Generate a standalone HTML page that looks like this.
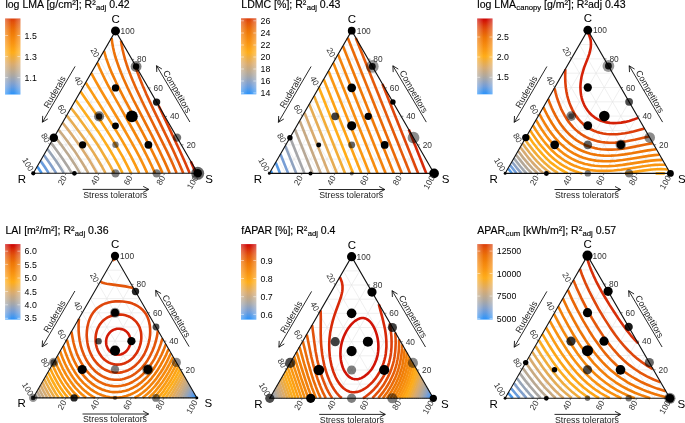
<!DOCTYPE html>
<html lang="en"><head><meta charset="utf-8"><title>CSR ternary plots</title>
<style>html,body{margin:0;padding:0;background:#fff}body{width:685px;height:423px;overflow:hidden}</style></head>
<body>
<svg width="685" height="423" viewBox="0 0 685 423" style="display:block;font-family:'Liberation Sans',sans-serif;filter:blur(0.35px)">
<rect width="685" height="423" fill="#fff"/>
<defs><linearGradient id="side" x1="0" y1="0" x2="1" y2="0"><stop offset="0" stop-color="#fff" stop-opacity="0.32"/><stop offset="0.42" stop-color="#fff" stop-opacity="0"/><stop offset="0.58" stop-color="#fff" stop-opacity="0"/><stop offset="1" stop-color="#fff" stop-opacity="0.32"/></linearGradient></defs>
<g><path d="M189.5 159.1L41.5 159.1M123.7 45.2L49.7 173.3M107.3 45.2L181.3 173.3M181.3 144.8L49.7 144.8M131.9 59.4L66.2 173.3M99.1 59.4L164.8 173.3M173.0 130.6L58.0 130.6M140.2 73.6L82.6 173.3M90.8 73.6L148.4 173.3M164.8 116.4L66.2 116.4M148.4 87.9L99.1 173.3M82.6 87.9L131.9 173.3M156.6 102.1L74.4 102.1M156.6 102.1L115.5 173.3M74.4 102.1L115.5 173.3M148.4 87.9L82.6 87.9M164.8 116.4L131.9 173.3M66.2 116.4L99.1 173.3M140.2 73.6L90.8 73.6M173.0 130.6L148.4 173.3M58.0 130.6L82.6 173.3M131.9 59.4L99.1 59.4M181.3 144.8L164.8 173.3M49.7 144.8L66.2 173.3M123.7 45.2L107.3 45.2M189.5 159.1L181.3 173.3M41.5 159.1L49.7 173.3" stroke="#e4e4e4" stroke-width="0.6" fill="none"/>
<path d="M37.3 166.5 41.7 173.3" stroke="#4997ec" stroke-width="2.60" fill="none" stroke-linecap="butt" stroke-linejoin="round"/>
<path d="M40.6 160.9 44.8 167.1 48.7 173.1" stroke="#699cdd" stroke-width="2.60" fill="none" stroke-linecap="butt" stroke-linejoin="round"/>
<path d="M43.9 155 50.4 164.2 56.2 173.1" stroke="#83a0cb" stroke-width="2.60" fill="none" stroke-linecap="butt" stroke-linejoin="round"/>
<path d="M47.4 149 52 155.3 56.3 161.3 60.3 167.4 63.8 173.1" stroke="#97a4b6" stroke-width="2.60" fill="none" stroke-linecap="butt" stroke-linejoin="round"/>
<path d="M51.1 142.9 56.9 150.7 62.4 158.5 67.4 165.9 71.8 173.1" stroke="#aba7a2" stroke-width="2.60" fill="none" stroke-linecap="butt" stroke-linejoin="round"/>
<path d="M54.7 136.3 62 145.9 68.7 155.3 74.6 164.2 80 173.1" stroke="#bba991" stroke-width="2.60" fill="none" stroke-linecap="butt" stroke-linejoin="round"/>
<path d="M58.6 129.7 63.1 135.5 67.4 141.2 71.4 146.7 75.3 152.1 78.9 157.6 82.2 162.8 85.4 168 88.3 173.1" stroke="#caaa80" stroke-width="2.60" fill="none" stroke-linecap="butt" stroke-linejoin="round"/>
<path d="M62.6 122.8 67.8 129.4 72.8 136 77.6 142.7 82.1 149 86.2 155.3 90.1 161.3 93.6 167.4 96.9 173.1" stroke="#daab6e" stroke-width="2.60" fill="none" stroke-linecap="butt" stroke-linejoin="round"/>
<path d="M66.8 115.6 73.1 123.7 78.7 131.2 84.1 138.6 89 145.8 93.7 152.9 97.9 159.8 101.9 166.5 105.5 173.1" stroke="#e6ac53" stroke-width="2.60" fill="none" stroke-linecap="butt" stroke-linejoin="round"/>
<path d="M71.1 108 78.3 117.4 84.8 126.3 90.8 134.7 96.4 142.9 101.4 150.8 106 158.5 110.3 165.9 114.1 173.1" stroke="#f2ac37" stroke-width="2.60" fill="none" stroke-linecap="butt" stroke-linejoin="round"/>
<path d="M75.7 100 84.2 111.7 91.5 122 98.1 131.4 103.9 140.4 109.3 149 114.2 157.3 118.6 165.4 122.6 173.1" stroke="#fdad1c" stroke-width="2.60" fill="none" stroke-linecap="butt" stroke-linejoin="round"/>
<path d="M80.5 91.6 92.2 108.6 99.4 119.1 106 129.1 112 138.6 117.5 147.8 122.6 156.7 127 165.1 131.1 173.3" stroke="#fda416" stroke-width="2.60" fill="none" stroke-linecap="butt" stroke-linejoin="round"/>
<path d="M85.8 82.8 92.2 92.9 110.5 121.7 116.2 130.9 121.1 138.9 126.4 148.1 131.1 156.7 135.4 165.1 139.2 173.1" stroke="#fa9a13" stroke-width="2.60" fill="none" stroke-linecap="butt" stroke-linejoin="round"/>
<path d="M91.3 73.1 95.5 80.8 100.7 90 122.2 126 131.3 141.8 135.9 150.2 140.1 158.2 143.9 165.9 147.2 173.1" stroke="#f88f10" stroke-width="2.60" fill="none" stroke-linecap="butt" stroke-linejoin="round"/>
<path d="M97.4 62.7 99.4 67.6 101.8 72.8 104.4 78.2 107.5 84.3 114.7 97.5 132.5 129 140.5 143.5 144.7 151.6 148.5 159.1 151.9 166.2 155 173.2" stroke="#f4860c" stroke-width="2.60" fill="none" stroke-linecap="butt" stroke-linejoin="round"/>
<path d="M104 50.9 106.1 58.1 108.9 65.9 112.2 73.9 116.3 82.8 120.3 90.9 124.9 99.8 142.5 132.4 149.8 146.4 156.7 160.4 159.7 166.8 162.5 173.1" stroke="#f17d09" stroke-width="2.60" fill="none" stroke-linecap="butt" stroke-linejoin="round"/>
<path d="M111.6 38 112.2 42.6 113 47.2 114.1 52.1 115.4 57 117.1 62.1 118.9 67.3 121 72.8 123.4 78.5 127.8 88.3 133.2 99.5 138.7 110.2 152.2 136.2 159 149.9 164.7 161.9 169.7 173.1" stroke="#ec7107" stroke-width="2.60" fill="none" stroke-linecap="butt" stroke-linejoin="round"/>
<path d="M121 40.6 121.7 45.2 122.6 49.8 123.8 54.7 125.1 59.6 126.7 64.7 128.5 69.9 130.6 75.4 132.9 81.1 137.2 90.9 142.3 101.8 147.7 112.8 160.7 138.8 167 151.6 172.2 162.8 176.6 173.1" stroke="#e76209" stroke-width="2.60" fill="none" stroke-linecap="butt" stroke-linejoin="round"/>
<path d="M134.8 64.3 137 71.1 139.7 78.2 142.7 85.7 146.3 94.1 153.5 109.6 167.6 138.6 173.2 150.4 178.7 162.5 183.3 173.3" stroke="#e2530b" stroke-width="2.60" fill="none" stroke-linecap="butt" stroke-linejoin="round"/>
<path d="M158.6 105.6 179.8 150.7 185.1 162.5 189.6 173.1" stroke="#dc3f0b" stroke-width="2.60" fill="none" stroke-linecap="butt" stroke-linejoin="round"/>
<path d="M190.7 161.2 195.7 173.1" stroke="#d62508" stroke-width="2.60" fill="none" stroke-linecap="butt" stroke-linejoin="round"/>
<path d="M33.3 173.3L197.7 173.3L115.5 30.9Z" stroke="#111" stroke-width="1.1" fill="none" stroke-linejoin="miter"/>
<path d="M181.3 144.8h2.2M66.2 173.3l-1.1 1.9M99.1 59.4l-1.1 -1.9M164.8 116.4h2.2M99.1 173.3l-1.1 1.9M82.6 87.9l-1.1 -1.9M148.4 87.9h2.2M131.9 173.3l-1.1 1.9M66.2 116.4l-1.1 -1.9M131.9 59.4h2.2M164.8 173.3l-1.1 1.9M49.7 144.8l-1.1 -1.9M115.5 30.9h2.2M197.7 173.3l-1.1 1.9M33.3 173.3l-1.1 -1.9" stroke="#333" stroke-width="0.6" fill="none"/>
<circle cx="115.5" cy="30.9" r="4.48" fill="#000" fill-opacity="1.00"/>
<circle cx="136.1" cy="66.5" r="5.43" fill="#000" fill-opacity="0.50"/>
<circle cx="136.1" cy="66.5" r="3.19" fill="#000" fill-opacity="1.00"/>
<circle cx="115.5" cy="87.9" r="3.66" fill="#000" fill-opacity="1.00"/>
<circle cx="156.6" cy="102.1" r="3.66" fill="#000" fill-opacity="0.90"/>
<circle cx="99.1" cy="116.4" r="5.07" fill="#000" fill-opacity="0.50"/>
<circle cx="99.1" cy="116.4" r="3.19" fill="#000" fill-opacity="0.85"/>
<circle cx="131.9" cy="116.4" r="5.90" fill="#000" fill-opacity="1.00"/>
<circle cx="115.5" cy="125.8" r="3.42" fill="#000" fill-opacity="1.00"/>
<circle cx="82.6" cy="144.8" r="3.66" fill="#000" fill-opacity="1.00"/>
<circle cx="115.5" cy="144.8" r="3.19" fill="#000" fill-opacity="0.50"/>
<circle cx="148.4" cy="144.8" r="3.89" fill="#000" fill-opacity="1.00"/>
<circle cx="177.1" cy="137.7" r="4.13" fill="#000" fill-opacity="0.55"/>
<circle cx="74.4" cy="173.3" r="2.36" fill="#000" fill-opacity="1.00"/>
<circle cx="115.5" cy="173.3" r="4.13" fill="#000" fill-opacity="0.50"/>
<circle cx="156.6" cy="173.3" r="4.13" fill="#000" fill-opacity="0.50"/>
<circle cx="197.7" cy="173.3" r="6.49" fill="#000" fill-opacity="0.60"/>
<circle cx="197.7" cy="173.3" r="4.25" fill="#000" fill-opacity="1.00"/>
<circle cx="33.3" cy="173.3" r="2.12" fill="#000" fill-opacity="1.00"/>
<circle cx="53.8" cy="137.7" r="4.25" fill="#000" fill-opacity="1.00"/>
<text x="186.4" y="147.8" font-size="8.4" fill="#333">20</text>
<text transform="translate(64.5 176.2) rotate(-60)" text-anchor="end" font-size="8.4" fill="#333" dy="3">20</text>
<text transform="translate(97.4 56.5) rotate(60)" text-anchor="end" font-size="8.4" fill="#333" dy="3">20</text>
<text x="169.9" y="119.4" font-size="8.4" fill="#333">40</text>
<text transform="translate(97.4 176.2) rotate(-60)" text-anchor="end" font-size="8.4" fill="#333" dy="3">40</text>
<text transform="translate(80.9 84.9) rotate(60)" text-anchor="end" font-size="8.4" fill="#333" dy="3">40</text>
<text x="153.5" y="90.9" font-size="8.4" fill="#333">60</text>
<text transform="translate(130.2 176.2) rotate(-60)" text-anchor="end" font-size="8.4" fill="#333" dy="3">60</text>
<text transform="translate(64.5 113.4) rotate(60)" text-anchor="end" font-size="8.4" fill="#333" dy="3">60</text>
<text x="137.0" y="62.4" font-size="8.4" fill="#333">80</text>
<text transform="translate(163.1 176.2) rotate(-60)" text-anchor="end" font-size="8.4" fill="#333" dy="3">80</text>
<text transform="translate(48.0 141.9) rotate(60)" text-anchor="end" font-size="8.4" fill="#333" dy="3">80</text>
<text x="120.6" y="33.9" font-size="8.4" fill="#333">100</text>
<text transform="translate(196.0 176.2) rotate(-60)" text-anchor="end" font-size="8.4" fill="#333" dy="3">100</text>
<text transform="translate(31.6 170.4) rotate(60)" text-anchor="end" font-size="8.4" fill="#333" dy="3">100</text>
<text x="115.7" y="23.1" font-size="11.5" text-anchor="middle" fill="#000">C</text>
<text x="21.8" y="182.8" font-size="11.5" text-anchor="middle" fill="#000">R</text>
<text x="209.2" y="182.8" font-size="11.5" text-anchor="middle" fill="#000">S</text>
<path d="M75.1 66.4L42.4 122.2M47.8 118.9L42.4 122.2L42.7 115.9" stroke="#111" stroke-width="0.9" fill="none" stroke-linejoin="miter"/>
<text transform="translate(57.2 93.4) rotate(-60)" text-anchor="middle" font-size="8.8" fill="#222">Ruderals</text>
<path d="M189.9 122.0L156.5 65.7M156.8 72.0L156.5 65.7L161.9 69.0" stroke="#111" stroke-width="0.9" fill="none" stroke-linejoin="miter"/>
<text transform="translate(174.7 93.0) rotate(60)" text-anchor="middle" font-size="8.8" fill="#222">Competitors</text>
<path d="M82.7 189.4L148.8 189.4M143.2 186.4L148.8 189.4L143.2 192.4" stroke="#111" stroke-width="0.9" fill="none" stroke-linejoin="miter"/>
<text x="115.2" y="197.6" text-anchor="middle" font-size="8.8" fill="#222">Stress tolerators</text>
<defs><linearGradient id="g1" x1="0" y1="0" x2="0" y2="1"><stop offset="0.000" stop-color="#dc3e0a"/><stop offset="0.050" stop-color="#e2530b"/><stop offset="0.100" stop-color="#e76209"/><stop offset="0.150" stop-color="#ec7107"/><stop offset="0.200" stop-color="#f07c08"/><stop offset="0.250" stop-color="#f4860c"/><stop offset="0.300" stop-color="#f88f10"/><stop offset="0.350" stop-color="#fa9913"/><stop offset="0.400" stop-color="#fda415"/><stop offset="0.450" stop-color="#fead1b"/><stop offset="0.500" stop-color="#f2ac37"/><stop offset="0.550" stop-color="#e6ac52"/><stop offset="0.600" stop-color="#daab6e"/><stop offset="0.650" stop-color="#caaa7f"/><stop offset="0.700" stop-color="#bba991"/><stop offset="0.750" stop-color="#aba7a2"/><stop offset="0.800" stop-color="#98a4b6"/><stop offset="0.850" stop-color="#83a0cb"/><stop offset="0.900" stop-color="#699cdd"/><stop offset="0.950" stop-color="#4998ec"/><stop offset="1.000" stop-color="#2a93fb"/></linearGradient></defs>
<rect x="5.1" y="18.5" width="15.3" height="76.0" fill="url(#g1)"/>
<rect x="5.1" y="18.5" width="15.3" height="76.0" fill="url(#side)"/>
<text x="24.6" y="38.6" font-size="8.8" fill="#000">1.5</text>
<text x="24.6" y="59.7" font-size="8.8" fill="#000">1.3</text>
<text x="24.6" y="80.7" font-size="8.8" fill="#000">1.1</text>
<path d="M5.1 35.5h3M20.4 35.5h-3M5.1 56.6h3M20.4 56.6h-3M5.1 77.6h3M20.4 77.6h-3" stroke="#fff" stroke-width="0.6" stroke-opacity="0.8" fill="none"/>
<text x="5.4" y="8.3" font-size="10.55" fill="#000" stroke="#000" stroke-width="0.15">log LMA [g/cm²]; R²<tspan dx="0.3" dy="2.0" font-size="7.7">adj</tspan><tspan dy="-2.0"> </tspan>0.42</text></g>
<g><path d="M425.9 159.1L277.5 159.1M359.9 45.0L285.8 173.4M343.5 45.0L417.6 173.4M417.6 144.9L285.8 144.9M368.2 59.2L302.3 173.4M335.2 59.2L401.1 173.4M409.4 130.6L294.0 130.6M376.4 73.5L318.7 173.4M327.0 73.5L384.7 173.4M401.1 116.3L302.3 116.3M384.7 87.8L335.2 173.4M318.7 87.8L368.2 173.4M392.9 102.0L310.5 102.0M392.9 102.0L351.7 173.4M310.5 102.0L351.7 173.4M384.7 87.8L318.7 87.8M401.1 116.3L368.2 173.4M302.3 116.3L335.2 173.4M376.4 73.5L327.0 73.5M409.4 130.6L384.7 173.4M294.0 130.6L318.7 173.4M368.2 59.2L335.2 59.2M417.6 144.9L401.1 173.4M285.8 144.9L302.3 173.4M359.9 45.0L343.5 45.0M425.9 159.1L417.6 173.4M277.5 159.1L285.8 173.4" stroke="#e4e4e4" stroke-width="0.6" fill="none"/>
<path d="M270.9 170.7 271.9 173.2" stroke="#3595f6" stroke-width="2.60" fill="none" stroke-linecap="butt" stroke-linejoin="round"/>
<path d="M275.7 162.6 280 173.3" stroke="#5799e5" stroke-width="2.60" fill="none" stroke-linecap="butt" stroke-linejoin="round"/>
<path d="M280.5 154.2 288.1 173.2" stroke="#789ed5" stroke-width="2.60" fill="none" stroke-linecap="butt" stroke-linejoin="round"/>
<path d="M285.3 145.9 296.2 173.2" stroke="#8fa2bf" stroke-width="2.60" fill="none" stroke-linecap="butt" stroke-linejoin="round"/>
<path d="M290.1 137.5 304.4 173.2" stroke="#a5a6a9" stroke-width="2.60" fill="none" stroke-linecap="butt" stroke-linejoin="round"/>
<path d="M294.9 129.3 312.5 173.2" stroke="#b7a896" stroke-width="2.60" fill="none" stroke-linecap="butt" stroke-linejoin="round"/>
<path d="M299.8 121.1 320.7 173.3" stroke="#c7a983" stroke-width="2.60" fill="none" stroke-linecap="butt" stroke-linejoin="round"/>
<path d="M304.5 112.7 328.7 173.2" stroke="#d8ab70" stroke-width="2.60" fill="none" stroke-linecap="butt" stroke-linejoin="round"/>
<path d="M309.3 104.3 336.9 173.2" stroke="#e5ac54" stroke-width="2.60" fill="none" stroke-linecap="butt" stroke-linejoin="round"/>
<path d="M314.1 95.9 345 173.2" stroke="#f2ac36" stroke-width="2.60" fill="none" stroke-linecap="butt" stroke-linejoin="round"/>
<path d="M318.9 87.6 353.1 173.2" stroke="#ffad19" stroke-width="2.60" fill="none" stroke-linecap="butt" stroke-linejoin="round"/>
<path d="M323.7 79.3 361.3 173.3" stroke="#fca215" stroke-width="2.60" fill="none" stroke-linecap="butt" stroke-linejoin="round"/>
<path d="M328.6 71.2 369.4 173.2" stroke="#fa9712" stroke-width="2.60" fill="none" stroke-linecap="butt" stroke-linejoin="round"/>
<path d="M333.3 62.8 377.5 173.2" stroke="#f68c0e" stroke-width="2.60" fill="none" stroke-linecap="butt" stroke-linejoin="round"/>
<path d="M338.1 54.5 385.6 173.2" stroke="#f3820b" stroke-width="2.60" fill="none" stroke-linecap="butt" stroke-linejoin="round"/>
<path d="M342.9 46.1 393.7 173.2" stroke="#ef7807" stroke-width="2.60" fill="none" stroke-linecap="butt" stroke-linejoin="round"/>
<path d="M347.7 37.8 401.9 173.4" stroke="#ea6908" stroke-width="2.60" fill="none" stroke-linecap="butt" stroke-linejoin="round"/>
<path d="M355.8 37.9 410 173.2" stroke="#e4590a" stroke-width="2.60" fill="none" stroke-linecap="butt" stroke-linejoin="round"/>
<path d="M382.4 83.9 418.1 173.2" stroke="#de460b" stroke-width="2.60" fill="none" stroke-linecap="butt" stroke-linejoin="round"/>
<path d="M408.8 129.6 426.2 173.2" stroke="#d72a08" stroke-width="2.60" fill="none" stroke-linecap="butt" stroke-linejoin="round"/>
<path d="M269.3 173.4L434.1 173.4L351.7 30.7Z" stroke="#111" stroke-width="1.1" fill="none" stroke-linejoin="miter"/>
<path d="M417.6 144.9h2.2M302.3 173.4l-1.1 1.9M335.2 59.2l-1.1 -1.9M401.1 116.3h2.2M335.2 173.4l-1.1 1.9M318.7 87.8l-1.1 -1.9M384.7 87.8h2.2M368.2 173.4l-1.1 1.9M302.3 116.3l-1.1 -1.9M368.2 59.2h2.2M401.1 173.4l-1.1 1.9M285.8 144.9l-1.1 -1.9M351.7 30.7h2.2M434.1 173.4l-1.1 1.9M269.3 173.4l-1.1 -1.9" stroke="#333" stroke-width="0.6" fill="none"/>
<circle cx="351.7" cy="30.7" r="3.89" fill="#000" fill-opacity="1.00"/>
<circle cx="372.3" cy="66.4" r="6.37" fill="#000" fill-opacity="0.40"/>
<circle cx="372.3" cy="66.4" r="3.42" fill="#000" fill-opacity="0.90"/>
<circle cx="351.7" cy="87.8" r="4.37" fill="#000" fill-opacity="1.00"/>
<circle cx="392.9" cy="102.0" r="2.71" fill="#000" fill-opacity="1.00"/>
<circle cx="335.2" cy="116.3" r="3.89" fill="#000" fill-opacity="0.75"/>
<circle cx="368.2" cy="116.3" r="3.66" fill="#000" fill-opacity="1.00"/>
<circle cx="351.7" cy="125.8" r="4.60" fill="#000" fill-opacity="1.00"/>
<circle cx="318.7" cy="144.9" r="2.48" fill="#000" fill-opacity="1.00"/>
<circle cx="351.7" cy="144.9" r="3.42" fill="#000" fill-opacity="0.60"/>
<circle cx="384.7" cy="144.9" r="3.89" fill="#000" fill-opacity="1.00"/>
<circle cx="413.5" cy="137.7" r="5.90" fill="#000" fill-opacity="0.45"/>
<circle cx="289.9" cy="137.7" r="2.71" fill="#000" fill-opacity="1.00"/>
<circle cx="310.5" cy="173.4" r="2.01" fill="#000" fill-opacity="1.00"/>
<circle cx="351.7" cy="173.4" r="2.01" fill="#000" fill-opacity="0.50"/>
<circle cx="434.1" cy="173.4" r="4.84" fill="#000" fill-opacity="1.00"/>
<circle cx="269.3" cy="173.4" r="1.42" fill="#000" fill-opacity="1.00"/>
<text x="422.7" y="147.9" font-size="8.4" fill="#333">20</text>
<text transform="translate(300.6 176.3) rotate(-60)" text-anchor="end" font-size="8.4" fill="#333" dy="3">20</text>
<text transform="translate(333.5 56.3) rotate(60)" text-anchor="end" font-size="8.4" fill="#333" dy="3">20</text>
<text x="406.2" y="119.3" font-size="8.4" fill="#333">40</text>
<text transform="translate(333.5 176.3) rotate(-60)" text-anchor="end" font-size="8.4" fill="#333" dy="3">40</text>
<text transform="translate(317.0 84.8) rotate(60)" text-anchor="end" font-size="8.4" fill="#333" dy="3">40</text>
<text x="389.8" y="90.8" font-size="8.4" fill="#333">60</text>
<text transform="translate(366.5 176.3) rotate(-60)" text-anchor="end" font-size="8.4" fill="#333" dy="3">60</text>
<text transform="translate(300.6 113.4) rotate(60)" text-anchor="end" font-size="8.4" fill="#333" dy="3">60</text>
<text x="373.3" y="62.2" font-size="8.4" fill="#333">80</text>
<text transform="translate(399.4 176.3) rotate(-60)" text-anchor="end" font-size="8.4" fill="#333" dy="3">80</text>
<text transform="translate(284.1 141.9) rotate(60)" text-anchor="end" font-size="8.4" fill="#333" dy="3">80</text>
<text x="356.8" y="33.7" font-size="8.4" fill="#333">100</text>
<text transform="translate(432.4 176.3) rotate(-60)" text-anchor="end" font-size="8.4" fill="#333" dy="3">100</text>
<text transform="translate(267.6 170.5) rotate(60)" text-anchor="end" font-size="8.4" fill="#333" dy="3">100</text>
<text x="351.9" y="22.9" font-size="11.5" text-anchor="middle" fill="#000">C</text>
<text x="257.8" y="182.9" font-size="11.5" text-anchor="middle" fill="#000">R</text>
<text x="445.6" y="182.9" font-size="11.5" text-anchor="middle" fill="#000">S</text>
<path d="M311.1 66.5L278.4 122.3M283.8 119.0L278.4 122.3L278.7 116.0" stroke="#111" stroke-width="0.9" fill="none" stroke-linejoin="miter"/>
<text transform="translate(293.2 93.5) rotate(-60)" text-anchor="middle" font-size="8.8" fill="#222">Ruderals</text>
<path d="M426.3 122.1L392.9 65.8M393.2 72.1L392.9 65.8L398.3 69.1" stroke="#111" stroke-width="0.9" fill="none" stroke-linejoin="miter"/>
<text transform="translate(411.1 93.1) rotate(60)" text-anchor="middle" font-size="8.8" fill="#222">Competitors</text>
<path d="M318.7 189.5L384.8 189.5M379.2 186.5L384.8 189.5L379.2 192.5" stroke="#111" stroke-width="0.9" fill="none" stroke-linejoin="miter"/>
<text x="351.2" y="197.7" text-anchor="middle" font-size="8.8" fill="#222">Stress tolerators</text>
<defs><linearGradient id="g2" x1="0" y1="0" x2="0" y2="1"><stop offset="0.000" stop-color="#dc3e0a"/><stop offset="0.050" stop-color="#e2530b"/><stop offset="0.100" stop-color="#e76209"/><stop offset="0.150" stop-color="#ec7107"/><stop offset="0.200" stop-color="#f07c08"/><stop offset="0.250" stop-color="#f4860c"/><stop offset="0.300" stop-color="#f88f10"/><stop offset="0.350" stop-color="#fa9913"/><stop offset="0.400" stop-color="#fda415"/><stop offset="0.450" stop-color="#fead1b"/><stop offset="0.500" stop-color="#f2ac37"/><stop offset="0.550" stop-color="#e6ac52"/><stop offset="0.600" stop-color="#daab6e"/><stop offset="0.650" stop-color="#caaa7f"/><stop offset="0.700" stop-color="#bba991"/><stop offset="0.750" stop-color="#aba7a2"/><stop offset="0.800" stop-color="#98a4b6"/><stop offset="0.850" stop-color="#83a0cb"/><stop offset="0.900" stop-color="#699cdd"/><stop offset="0.950" stop-color="#4998ec"/><stop offset="1.000" stop-color="#2a93fb"/></linearGradient></defs>
<rect x="241.0" y="18.3" width="15.3" height="76.0" fill="url(#g2)"/>
<rect x="241.0" y="18.3" width="15.3" height="76.0" fill="url(#side)"/>
<text x="260.5" y="23.9" font-size="8.8" fill="#000">26</text>
<text x="260.5" y="36.1" font-size="8.8" fill="#000">24</text>
<text x="260.5" y="48.1" font-size="8.8" fill="#000">22</text>
<text x="260.5" y="60.1" font-size="8.8" fill="#000">20</text>
<text x="260.5" y="72.1" font-size="8.8" fill="#000">18</text>
<text x="260.5" y="84.1" font-size="8.8" fill="#000">16</text>
<text x="260.5" y="96.0" font-size="8.8" fill="#000">14</text>
<path d="M241.0 20.8h3M256.3 20.8h-3M241.0 33.0h3M256.3 33.0h-3M241.0 45.0h3M256.3 45.0h-3M241.0 57.0h3M256.3 57.0h-3M241.0 69.0h3M256.3 69.0h-3M241.0 81.0h3M256.3 81.0h-3M241.0 92.9h3M256.3 92.9h-3" stroke="#fff" stroke-width="0.6" stroke-opacity="0.8" fill="none"/>
<text x="241.3" y="8.3" font-size="10.55" fill="#000" stroke="#000" stroke-width="0.15">LDMC [%]; R²<tspan dx="0.3" dy="2.0" font-size="7.7">adj</tspan><tspan dy="-2.0"> </tspan>0.43</text></g>
<g><path d="M662.1 159.1L513.4 159.1M596.0 44.6L521.6 173.4M579.5 44.6L653.9 173.4M653.9 144.8L521.6 144.8M604.3 58.9L538.2 173.4M571.2 58.9L637.3 173.4M645.6 130.5L529.9 130.5M612.5 73.2L554.7 173.4M563.0 73.2L620.8 173.4M637.3 116.1L538.2 116.1M620.8 87.5L571.2 173.4M554.7 87.5L604.3 173.4M629.1 101.8L546.4 101.8M629.1 101.8L587.8 173.4M546.4 101.8L587.8 173.4M620.8 87.5L554.7 87.5M637.3 116.1L604.3 173.4M538.2 116.1L571.2 173.4M612.5 73.2L563.0 73.2M645.6 130.5L620.8 173.4M529.9 130.5L554.7 173.4M604.3 58.9L571.2 58.9M653.9 144.8L637.3 173.4M521.6 144.8L538.2 173.4M596.0 44.6L579.5 44.6M662.1 159.1L653.9 173.4M513.4 159.1L521.6 173.4" stroke="#e4e4e4" stroke-width="0.6" fill="none"/>
<path d="M508.1 168.5 511.9 173.2" stroke="#4d98ea" stroke-width="2.60" fill="none" stroke-linecap="butt" stroke-linejoin="round"/>
<path d="M510 165.1 516.5 173.2" stroke="#709dd9" stroke-width="2.60" fill="none" stroke-linecap="butt" stroke-linejoin="round"/>
<path d="M511.9 161.7 516.7 167.8 521.3 173.2" stroke="#8aa1c4" stroke-width="2.60" fill="none" stroke-linecap="butt" stroke-linejoin="round"/>
<path d="M513.9 158.2 520.4 166.5 523.5 170.1 526.5 173.4" stroke="#a1a6ad" stroke-width="2.60" fill="none" stroke-linecap="butt" stroke-linejoin="round"/>
<path d="M516 154.7 520.2 160.1 524 164.9 527.9 169.3 531.7 173.2" stroke="#b4a898" stroke-width="2.60" fill="none" stroke-linecap="butt" stroke-linejoin="round"/>
<path d="M518.1 151 523.1 157.6 527.9 163.4 532.6 168.6 537.4 173.3" stroke="#c5a985" stroke-width="2.60" fill="none" stroke-linecap="butt" stroke-linejoin="round"/>
<path d="M520.3 147.2 526.2 155 529.1 158.6 532 162 534.8 165 537.7 168 540.5 170.7 543.4 173.2" stroke="#d7ab72" stroke-width="2.60" fill="none" stroke-linecap="butt" stroke-linejoin="round"/>
<path d="M522.7 143.5 526.2 148.4 529.8 153 533.2 157 536.5 160.8 540 164.4 543.4 167.6 546.9 170.6 550.3 173.3" stroke="#e5ac55" stroke-width="2.60" fill="none" stroke-linecap="butt" stroke-linejoin="round"/>
<path d="M525 139.4 529.3 145.4 533.4 150.6 537.4 155.4 541.4 159.7 545.4 163.6 549.5 167.2 553.7 170.4 558 173.2" stroke="#f2ac37" stroke-width="2.60" fill="none" stroke-linecap="butt" stroke-linejoin="round"/>
<path d="M655.6 173.4 660.5 173.3 664.8 173.4M527.6 135.1 532.6 142.3 537.4 148.5 542.3 154.2 547.1 159.1 549.6 161.4 552 163.4 554.6 165.4 557.2 167.3 559.8 169 562.4 170.5 564.9 171.9 567.8 173.3" stroke="#ffad18" stroke-width="2.60" fill="none" stroke-linecap="butt" stroke-linejoin="round"/>
<path d="M530.2 130.4 533.2 135.1 536.3 139.4 539.3 143.5 542.3 147.2 545.4 150.7 548.4 153.9 551.5 156.8 554.6 159.5 557.8 162 561.2 164.3 564.5 166.3 567.8 168.1 571.2 169.7 575 171.2 578.7 172.4 582.4 173.4M624.9 173.4 643 170.6 652.2 169.5 656.8 169.2 660.8 169.1 664.5 169.2 668.1 169.5" stroke="#fca115" stroke-width="2.60" fill="none" stroke-linecap="butt" stroke-linejoin="round"/>
<path d="M533 125.5 535.9 130.2 538.6 134.2 541.3 138 544 141.5 546.6 144.6 549.4 147.8 552.3 150.8 555.2 153.5 558 155.9 561.2 158.3 564.4 160.5 567.3 162.2 570.6 164 573.8 165.5 577.3 166.8 580.7 167.9 583.6 168.7 586.7 169.4 589.9 170 593.1 170.4 596.5 170.7 599.9 170.9 603.4 170.9 607.1 170.9 613.7 170.5 620.9 169.7 627.8 168.7 643.6 166.2 651.3 165.3 655.1 164.9 658.8 164.7 662.2 164.7 665.4 164.8" stroke="#f99612" stroke-width="2.60" fill="none" stroke-linecap="butt" stroke-linejoin="round"/>
<path d="M536.1 120 538.8 124.7 541.3 128.7 544 132.7 546.5 136.2 549.1 139.6 551.7 142.6 554.4 145.5 557.2 148.2 560.1 150.8 562.9 153.1 565.8 155.1 569 157.2 572.1 158.9 575.4 160.5 578.7 161.9 582.2 163 585 163.9 588.2 164.6 591.3 165.2 594.8 165.7 598.2 166 601.7 166.2 605.1 166.2 608.8 166.1 615.4 165.7 622.6 164.9 629.2 163.9 644.1 161.6 651 160.6 657.1 160.1 662.5 159.9" stroke="#f68b0e" stroke-width="2.60" fill="none" stroke-linecap="butt" stroke-linejoin="round"/>
<path d="M539.5 114 541.9 118.6 544.3 122.7 546.8 126.7 549.1 130.3 551.6 133.6 554.1 136.8 556.6 139.7 559.4 142.6 562.1 145.1 564.9 147.5 567.8 149.7 570.7 151.7 573.5 153.4 576.8 155 580 156.5 583.3 157.7 586.2 158.6 589.3 159.4 592.5 160 595.9 160.6 599.4 160.9 602.8 161.1 606.5 161.2 610.3 161.1 616.3 160.7 622.6 160 629.5 159 648.7 155.9 654.5 155.1 659.4 154.8" stroke="#f2800a" stroke-width="2.60" fill="none" stroke-linecap="butt" stroke-linejoin="round"/>
<path d="M543.4 107.1 545.5 111.7 547.7 116 550 120 552.1 123.5 554.4 127 556.6 130.2 558.9 133 561.5 136 564.1 138.7 566.7 141.1 569.5 143.4 572.3 145.5 575.3 147.4 578.1 149 581.3 150.5 584.4 151.8 587.3 152.8 590.5 153.7 593.6 154.4 597.1 155 600.5 155.4 604 155.6 607.4 155.7 611.1 155.6 617.5 155.2 624.6 154.4 631.7 153.3 647.9 150.4 652.5 149.7 656.2 149.3" stroke="#ee7606" stroke-width="2.60" fill="none" stroke-linecap="butt" stroke-linejoin="round"/>
<path d="M548.2 98.9 549.9 103.6 551.7 107.8 553.5 111.7 555.4 115.4 557.5 119.1 559.5 122.4 561.7 125.5 563.9 128.4 566.4 131.3 568.7 133.7 571.2 136.1 573.8 138.3 576.7 140.4 579.6 142.2 582.5 143.7 585.6 145.2 588.6 146.3 591.6 147.3 594.8 148.1 597.9 148.7 601.1 149.2 604.5 149.5 608 149.6 611.7 149.6 618.6 149.2 626.4 148.2 632.4 147.1 646.7 144.3 652.8 143.3" stroke="#e86508" stroke-width="2.60" fill="none" stroke-linecap="butt" stroke-linejoin="round"/>
<path d="M554.5 88.2 555.6 92.9 556.8 97.2 558.2 101.2 559.6 105 561.1 108.8 562.8 112.2 564.7 115.7 566.6 118.9 568.7 121.9 570.9 124.7 573.2 127.3 575.5 129.6 578.1 131.9 580.7 133.8 583.3 135.5 586.2 137.1 589 138.5 591.9 139.6 595.1 140.6 598.2 141.4 601.4 142 604.8 142.4 608.3 142.6 611.7 142.7 615.2 142.6 618.9 142.3 622.6 141.9 626.6 141.3 634.7 139.7 649 136.5" stroke="#e3540b" stroke-width="2.60" fill="none" stroke-linecap="butt" stroke-linejoin="round"/>
<path d="M565.3 69.2 565.2 74.1 565.2 78.7 565.4 83 565.8 87.4 566.4 91.4 567.2 95.5 568.2 99.2 569.4 103 570.8 106.4 572.4 109.9 574.2 113.1 576.1 116.1 578.2 118.9 580.5 121.5 583 123.9 585.6 126 588.2 127.8 590.8 129.3 593.8 130.7 596.8 131.9 599.9 132.8 603.1 133.5 606.5 134 610 134.3 613.4 134.3 617.2 134.2 620.9 133.8 624.9 133.2 628.9 132.5 633.5 131.4 644.4 128.4" stroke="#dc3e0a" stroke-width="2.60" fill="none" stroke-linecap="butt" stroke-linejoin="round"/>
<path d="M587.2 31.3 588.1 33 589.1 35 589.8 37.1 590.4 39.1 590.8 41.1 590.9 43.1 590.9 45.2 590.8 47.2 590.2 50.4 589.2 54.1 588 57.6 584.2 67.4 583.2 70.6 582.3 73.8 581.5 77 581 80.1 580.6 83.3 580.4 86.5 580.5 89.4 580.7 92.3 581.1 95.2 581.7 97.8 582.4 100.4 583.4 103 584.4 105.3 585.7 107.6 587.6 110.5 589.6 113 591.9 115.2 594.5 117.3 597.4 119.1 600.2 120.5 603.4 121.6 606.5 122.4 610 122.9 613.4 123.1 617.2 123 621.2 122.6 625.2 121.9 629.3 120.9 633.5 119.6 638.1 117.9" stroke="#d52107" stroke-width="2.60" fill="none" stroke-linecap="butt" stroke-linejoin="round"/>
<path d="M505.1 173.4L670.4 173.4L587.8 30.2Z" stroke="#111" stroke-width="1.1" fill="none" stroke-linejoin="miter"/>
<path d="M653.9 144.8h2.2M538.2 173.4l-1.1 1.9M571.2 58.9l-1.1 -1.9M637.3 116.1h2.2M571.2 173.4l-1.1 1.9M554.7 87.5l-1.1 -1.9M620.8 87.5h2.2M604.3 173.4l-1.1 1.9M538.2 116.1l-1.1 -1.9M604.3 58.9h2.2M637.3 173.4l-1.1 1.9M521.6 144.8l-1.1 -1.9M587.8 30.2h2.2M670.4 173.4l-1.1 1.9M505.1 173.4l-1.1 -1.9" stroke="#333" stroke-width="0.6" fill="none"/>
<circle cx="587.8" cy="30.2" r="4.37" fill="#000" fill-opacity="1.00"/>
<circle cx="608.4" cy="66.0" r="5.90" fill="#000" fill-opacity="0.40"/>
<circle cx="608.4" cy="66.0" r="3.42" fill="#000" fill-opacity="0.90"/>
<circle cx="587.8" cy="87.5" r="4.13" fill="#000" fill-opacity="1.00"/>
<circle cx="629.1" cy="101.8" r="3.89" fill="#000" fill-opacity="0.70"/>
<circle cx="571.2" cy="116.1" r="4.84" fill="#000" fill-opacity="0.50"/>
<circle cx="571.2" cy="116.1" r="2.95" fill="#000" fill-opacity="0.50"/>
<circle cx="604.3" cy="116.1" r="5.31" fill="#000" fill-opacity="1.00"/>
<circle cx="587.8" cy="125.7" r="4.37" fill="#000" fill-opacity="1.00"/>
<circle cx="554.7" cy="144.8" r="4.37" fill="#000" fill-opacity="1.00"/>
<circle cx="587.8" cy="144.8" r="4.37" fill="#000" fill-opacity="0.60"/>
<circle cx="620.8" cy="144.8" r="5.31" fill="#000" fill-opacity="0.40"/>
<circle cx="620.8" cy="144.8" r="4.25" fill="#000" fill-opacity="1.00"/>
<circle cx="649.7" cy="137.6" r="5.31" fill="#000" fill-opacity="0.45"/>
<circle cx="525.8" cy="137.6" r="3.66" fill="#000" fill-opacity="1.00"/>
<circle cx="546.4" cy="173.4" r="2.48" fill="#000" fill-opacity="1.00"/>
<circle cx="587.8" cy="173.4" r="3.19" fill="#000" fill-opacity="0.50"/>
<circle cx="629.1" cy="173.4" r="4.13" fill="#000" fill-opacity="0.50"/>
<circle cx="670.4" cy="173.4" r="3.42" fill="#000" fill-opacity="1.00"/>
<circle cx="505.1" cy="173.4" r="1.42" fill="#000" fill-opacity="1.00"/>
<text x="659.0" y="147.8" font-size="8.4" fill="#333">20</text>
<text transform="translate(536.5 176.3) rotate(-60)" text-anchor="end" font-size="8.4" fill="#333" dy="3">20</text>
<text transform="translate(569.5 55.9) rotate(60)" text-anchor="end" font-size="8.4" fill="#333" dy="3">20</text>
<text x="642.4" y="119.1" font-size="8.4" fill="#333">40</text>
<text transform="translate(569.5 176.3) rotate(-60)" text-anchor="end" font-size="8.4" fill="#333" dy="3">40</text>
<text transform="translate(553.0 84.6) rotate(60)" text-anchor="end" font-size="8.4" fill="#333" dy="3">40</text>
<text x="625.9" y="90.5" font-size="8.4" fill="#333">60</text>
<text transform="translate(602.6 176.3) rotate(-60)" text-anchor="end" font-size="8.4" fill="#333" dy="3">60</text>
<text transform="translate(536.5 113.2) rotate(60)" text-anchor="end" font-size="8.4" fill="#333" dy="3">60</text>
<text x="609.4" y="61.9" font-size="8.4" fill="#333">80</text>
<text transform="translate(635.6 176.3) rotate(-60)" text-anchor="end" font-size="8.4" fill="#333" dy="3">80</text>
<text transform="translate(519.9 141.8) rotate(60)" text-anchor="end" font-size="8.4" fill="#333" dy="3">80</text>
<text x="592.9" y="33.2" font-size="8.4" fill="#333">100</text>
<text transform="translate(668.7 176.3) rotate(-60)" text-anchor="end" font-size="8.4" fill="#333" dy="3">100</text>
<text transform="translate(503.4 170.5) rotate(60)" text-anchor="end" font-size="8.4" fill="#333" dy="3">100</text>
<text x="588.0" y="22.4" font-size="11.5" text-anchor="middle" fill="#000">C</text>
<text x="493.6" y="182.9" font-size="11.5" text-anchor="middle" fill="#000">R</text>
<text x="681.9" y="182.9" font-size="11.5" text-anchor="middle" fill="#000">S</text>
<path d="M546.9 66.5L514.2 122.3M519.6 119.0L514.2 122.3L514.5 116.0" stroke="#111" stroke-width="0.9" fill="none" stroke-linejoin="miter"/>
<text transform="translate(529.0 93.5) rotate(-60)" text-anchor="middle" font-size="8.8" fill="#222">Ruderals</text>
<path d="M662.6 122.1L629.2 65.8M629.5 72.1L629.2 65.8L634.6 69.1" stroke="#111" stroke-width="0.9" fill="none" stroke-linejoin="miter"/>
<text transform="translate(647.4 93.1) rotate(60)" text-anchor="middle" font-size="8.8" fill="#222">Competitors</text>
<path d="M554.5 189.5L620.6 189.5M615.0 186.5L620.6 189.5L615.0 192.5" stroke="#111" stroke-width="0.9" fill="none" stroke-linejoin="miter"/>
<text x="587.0" y="197.7" text-anchor="middle" font-size="8.8" fill="#222">Stress tolerators</text>
<defs><linearGradient id="g3" x1="0" y1="0" x2="0" y2="1"><stop offset="0.000" stop-color="#cd0404"/><stop offset="0.050" stop-color="#d52107"/><stop offset="0.100" stop-color="#dc3e0a"/><stop offset="0.150" stop-color="#e3540b"/><stop offset="0.200" stop-color="#e86508"/><stop offset="0.250" stop-color="#ee7606"/><stop offset="0.300" stop-color="#f2800a"/><stop offset="0.350" stop-color="#f68b0e"/><stop offset="0.400" stop-color="#f99612"/><stop offset="0.450" stop-color="#fca115"/><stop offset="0.500" stop-color="#ffad18"/><stop offset="0.550" stop-color="#f2ac37"/><stop offset="0.600" stop-color="#e5ac55"/><stop offset="0.650" stop-color="#d7ab72"/><stop offset="0.700" stop-color="#c5a985"/><stop offset="0.750" stop-color="#b4a898"/><stop offset="0.800" stop-color="#a1a6ad"/><stop offset="0.850" stop-color="#8aa1c4"/><stop offset="0.900" stop-color="#709dd9"/><stop offset="0.950" stop-color="#4d98ea"/><stop offset="1.000" stop-color="#2a93fb"/></linearGradient></defs>
<rect x="477.2" y="18.5" width="15.3" height="75.8" fill="url(#g3)"/>
<rect x="477.2" y="18.5" width="15.3" height="75.8" fill="url(#side)"/>
<text x="496.7" y="40.1" font-size="8.8" fill="#000">2.5</text>
<text x="496.7" y="60.1" font-size="8.8" fill="#000">2.0</text>
<text x="496.7" y="80.4" font-size="8.8" fill="#000">1.5</text>
<path d="M477.2 37.0h3M492.5 37.0h-3M477.2 57.0h3M492.5 57.0h-3M477.2 77.3h3M492.5 77.3h-3" stroke="#fff" stroke-width="0.6" stroke-opacity="0.8" fill="none"/>
<text x="477.3" y="8.3" font-size="10.55" fill="#000" stroke="#000" stroke-width="0.15">log LMA<tspan dx="0.3" dy="2.0" font-size="7.7">canopy</tspan><tspan dy="-2.0"> </tspan>[g/m²]; R²adj 0.43</text></g>
<g><path d="M188.7 383.7L41.3 383.7M123.2 270.2L49.5 397.9M106.8 270.2L180.5 397.9M180.5 369.5L49.5 369.5M131.4 284.4L65.9 397.9M98.6 284.4L164.1 397.9M172.3 355.3L57.7 355.3M139.6 298.6L82.2 397.9M90.4 298.6L147.8 397.9M164.1 341.2L65.9 341.2M147.8 312.8L98.6 397.9M82.2 312.8L131.4 397.9M156.0 327.0L74.1 327.0M156.0 327.0L115.0 397.9M74.1 327.0L115.0 397.9M147.8 312.8L82.2 312.8M164.1 341.2L131.4 397.9M65.9 341.2L98.6 397.9M139.6 298.6L90.4 298.6M172.3 355.3L147.8 397.9M57.7 355.3L82.2 397.9M131.4 284.4L98.6 284.4M180.5 369.5L164.1 397.9M49.5 369.5L65.9 397.9M123.2 270.2L106.8 270.2M188.7 383.7L180.5 397.9M41.3 383.7L49.5 397.9" stroke="#e4e4e4" stroke-width="0.6" fill="none"/>
<path d="M118 354.8 116.6 354.7 115.4 354.5 114.3 354.1 113.2 353.7 111.2 352.5 110.1 351.6 109.3 350.8 108.4 349.6 107.7 348.5 107.2 347.3 106.7 346.2 106.4 345 106.2 343.6 106.1 341 106.3 339.6 106.5 338.4 107.3 336.1 108.6 334 109.5 332.9 110.3 332 111.2 331.3 112.3 330.5 113.4 329.9 114.6 329.4 116.8 328.8 118 328.7 119.4 328.7 121.7 329.1 122.8 329.4 124 329.9 125.9 331.1 126.8 331.9 127.7 332.8 129 334.7 129.5 335.9 129.9 337 130.4 339.3 130.5 341.9 130.1 344.4 129.3 346.7 128.1 349 126.5 351 125.6 351.9 124.5 352.7 122.5 353.8 121.4 354.2 120.3 354.5 118 354.8" stroke="#d31a06" stroke-width="2.60" fill="none" stroke-linecap="butt" stroke-linejoin="round"/>
<path d="M115.4 364.5 113.2 364.1 111.2 363.5 108.9 362.6 106.9 361.4 104.9 360 103.2 358.5 101.5 356.6 100.1 354.6 98.8 352.5 97.7 350.2 96.8 347.6 96.1 345 95.7 342.4 95.6 339.9 95.6 337.3 95.9 334.7 96.4 332.4 97 330.1 98 327.8 99 325.8 100.3 323.8 101.8 322 103.4 320.4 105.2 319 107.2 317.7 109.2 316.7 111.2 315.9 113.4 315.2 115.7 314.8 118.3 314.6 120.8 314.6 123.1 314.8 125.4 315.3 127.4 315.9 129.4 316.7 131.5 317.8 133.1 319 134.8 320.4 136.2 321.8 137.6 323.7 138.7 325.5 139.7 327.5 140.3 329.6 140.9 331.8 141.2 334.1 141.3 336.4 141.3 338.7 141 341.3 140.5 343.9 139.8 346.2 138.9 348.7 137.8 351 136.5 353.3 135 355.3 133.6 357.1 131.9 358.8 129.9 360.4 128 361.6 125.9 362.7 124 363.5 122 364.1 119.7 364.5 117.4 364.6 115.4 364.5" stroke="#d93009" stroke-width="2.60" fill="none" stroke-linecap="butt" stroke-linejoin="round"/>
<path d="M113.7 372.5 110.6 371.9 107.5 370.8 104.6 369.5 101.8 367.7 99.2 365.6 96.7 363 94.4 360.2 92.4 357.1 90.7 353.7 89.3 350.2 88.1 346.5 87.4 342.7 86.9 338.7 86.7 334.7 86.9 330.7 87.4 327 88.2 323.5 89.1 320.4 90.4 317.3 91.8 314.7 93.5 312.1 95.5 309.8 97.7 307.8 100.1 306.1 102.6 304.6 105.5 303.4 108.6 302.5 112 301.8 115.4 301.4 119.1 301.3 122.8 301.5 126.2 302 129.4 302.6 132.5 303.6 135.3 304.8 137.9 306.2 140.2 307.8 142.4 309.7 144.3 311.8 145.9 314 147.3 316.6 148.4 319.5 149.2 322.4 149.8 325.5 150.1 328.7 150.2 332.1 150 335.6 149.5 339.3 148.6 343 147.6 346.5 146.3 349.9 144.7 353.3 142.9 356.5 140.8 359.6 138.5 362.4 136.2 364.7 133.6 366.9 131.1 368.6 128.2 370.2 125.4 371.3 122.5 372.1 119.7 372.6 116.6 372.8 113.7 372.5" stroke="#df460b" stroke-width="2.60" fill="none" stroke-linecap="butt" stroke-linejoin="round"/>
<path d="M116.3 258.3 114.4 259.4 112.3 260.7M100.4 281.6 101.5 282.2 102.9 282.8 104.6 283.3 106.7 283.7 111.2 284.4 125.4 286.4 129.6 287.2 133.3 287.9M157.9 330.4 157.1 335.9 155.9 341 154.3 346.2 152.4 351 150.1 355.8 147.6 360.2 144.8 364.2 141.9 367.7 138.7 370.7 135.3 373.5 133.6 374.6 131.6 375.8 129.6 376.8 127.9 377.6 124.2 378.8 122.3 379.3 120.3 379.6 118.3 379.8 116.3 379.8 114.3 379.8 112.3 379.5 110.3 379.2 108.3 378.7 106.3 378 104.6 377.3 102.6 376.4 100.9 375.4 97.5 373.1 95.8 371.7 94.2 370.2 91.3 367.1 88.5 363.4 86.1 359.5 84.1 355.3 82.3 350.8 80.8 345.9 79.7 340.7 79 335.6 78.6 330.1 78.6 324.4 78.9 318.7" stroke="#e3560b" stroke-width="2.60" fill="none" stroke-linecap="butt" stroke-linejoin="round"/>
<path d="M162.5 338.4 160.8 343.9 158.9 349 156.7 354.2 154.4 358.8 151.8 363.1 149 367.2 146.1 370.8 142.9 374.2 139.6 377.2 136.2 379.7 132.5 382 128.8 383.7 125.1 385 121.4 385.8 117.7 386.2 115.7 386.2 113.7 386.2 111.7 385.9 109.7 385.6 106 384.7 102.3 383.2 98.6 381.3 95.2 379.1 91.8 376.3 88.7 373.2 85.8 369.9 83.3 366.2 80.9 362.2 78.7 357.9 76.7 353.2 75 348.2 73.6 343 72.5 337.6 71.4 331.6" stroke="#e86309" stroke-width="2.60" fill="none" stroke-linecap="butt" stroke-linejoin="round"/>
<path d="M165.9 344.2 163.8 349.6 161.4 355 158.9 359.9 156.1 364.8 153.3 369.2 150.3 373.1 147.1 376.8 143.9 380 140.5 382.9 136.8 385.6 133.1 387.7 129.4 389.4 125.7 390.7 121.7 391.6 118 392 114 392.1 110 391.7 106 390.8 102.1 389.5 98.4 387.8 94.7 385.6 91.3 383.1 87.8 380.2 84.7 377 81.8 373.4 79 369.5 76.5 365.4 74.2 360.9 72.1 356.2 70.2 351 68.5 345.6 66.8 339.6" stroke="#ec7007" stroke-width="2.60" fill="none" stroke-linecap="butt" stroke-linejoin="round"/>
<path d="M168.6 349 166.1 354.8 163.4 360.2 160.6 365.2 157.7 369.9 154.7 374.3 151.5 378.3 148.1 382.1 144.7 385.3 141.3 388.2 137.6 390.8 133.9 392.9 129.9 394.7 126.2 396 122.3 397 118.3 397.5 114.3 397.6 110 397.3 106 396.5 102.1 395.3 98.1 393.6 94.4 391.7 90.5 389.1 87 386.3 83.6 383.1 80.4 379.7 77.3 375.7 74.6 371.7 71.9 367.2 69.5 362.5 67.3 357.3 65.2 351.9 63.2 345.9" stroke="#f07a08" stroke-width="2.60" fill="none" stroke-linecap="butt" stroke-linejoin="round"/>
<path d="M95.2 397.9 92.4 396.3 89.7 394.6 87 392.6 84.4 390.5 81.9 388.2 79.5 385.7 77.2 383.1 74.9 380.3 72.8 377.3 70.8 374.2 68.8 370.9 66.9 367.4 65.1 363.7 63.4 359.9 61.7 355.7 60.1 351.3M170.9 353.3 167 361.4 165 365.1 163.1 368.5 160.9 372 158.8 375.1 156.7 378.1 154.4 381 152.1 383.7 149.6 386.5 147.1 388.9 144.7 391 142.2 393 139.6 394.9 137 396.5 134.5 397.9" stroke="#f3820b" stroke-width="2.60" fill="none" stroke-linecap="butt" stroke-linejoin="round"/>
<path d="M86.1 397.8 83.9 396.1 81.8 394.3 79.6 392.3 77.6 390.2 75.6 388.1 73.6 385.7 70 380.8 66.5 375.4 63.3 369.7 60.3 363.3 57.3 356.2M173.1 356.8 169.7 363.6 166.3 369.9 162.6 375.8 158.9 381.1 155 386.1 151 390.5 147 394.3 142.7 397.8" stroke="#f68a0e" stroke-width="2.60" fill="none" stroke-linecap="butt" stroke-linejoin="round"/>
<path d="M79.1 397.7 75.6 394.3 72 390.3 68.8 386.2 65.7 381.7 62.8 377.1 60 371.9 57.3 366.5 54.7 360.5M175.1 360.2 172 366.2 168.9 371.9 165.8 377 162.5 382 159.2 386.4 155.8 390.6 152.4 394.3 148.7 397.9" stroke="#f99211" stroke-width="2.60" fill="none" stroke-linecap="butt" stroke-linejoin="round"/>
<path d="M73.3 397.9 70.4 394.6 67.6 391.1 64.8 387.4 62.2 383.4 59.6 379.1 57.1 374.6 54.8 369.9 52.5 364.8M176.9 363.4 174 368.8 171.3 373.7 168.6 378.3 165.8 382.7 162.9 386.9 159.9 390.9 156.9 394.4 153.8 397.8" stroke="#fb9b13" stroke-width="2.60" fill="none" stroke-linecap="butt" stroke-linejoin="round"/>
<path d="M68 397.7 65.4 394.6 63.1 391.5 60.8 388.2 58.5 384.6 56.4 380.8 54.3 377 52.3 373 50.2 368.5M178.6 366.2 173.7 375.4 171.2 379.7 168.6 383.8 166 387.6 163.5 391.2 160.9 394.6 158.3 397.7" stroke="#fda416" stroke-width="2.60" fill="none" stroke-linecap="butt" stroke-linejoin="round"/>
<path d="M63.2 397.7 59.1 392.1 55.4 386.2 51.7 379.5 48.1 372.2M180.1 369.1 175.7 377.3 171.2 384.8 166.9 391.4 162.2 397.7" stroke="#ffad18" stroke-width="2.60" fill="none" stroke-linecap="butt" stroke-linejoin="round"/>
<path d="M58.8 397.8 55.5 392.9 52.3 387.5 49.2 381.8 46.1 375.7M181.7 371.6 177.7 379 173.7 385.9 169.7 392.1 165.8 397.8" stroke="#f5ac30" stroke-width="2.60" fill="none" stroke-linecap="butt" stroke-linejoin="round"/>
<path d="M54.7 397.7 52 393.4 49.3 388.9 46.7 384 44.1 378.8M183.1 374.2 179.4 381 176 387 172.6 392.5 169.1 397.7" stroke="#ebac47" stroke-width="2.60" fill="none" stroke-linecap="butt" stroke-linejoin="round"/>
<path d="M50.9 397.8 48.8 394.3 46.6 390.5 44.5 386.6 42.3 382.2M184.5 376.5 181.4 382.3 178.3 387.9 175.1 393.1 172.2 397.7" stroke="#e1ab5f" stroke-width="2.60" fill="none" stroke-linecap="butt" stroke-linejoin="round"/>
<path d="M47.2 397.7 43.8 391.7 40.6 385.4M185.8 378.8 180.6 388.6 175.1 397.7" stroke="#d5ab73" stroke-width="2.60" fill="none" stroke-linecap="butt" stroke-linejoin="round"/>
<path d="M43.8 397.8 41.2 393.2 38.8 388.3M187.1 381.1 182.5 389.7 177.8 397.7" stroke="#c8aa82" stroke-width="2.60" fill="none" stroke-linecap="butt" stroke-linejoin="round"/>
<path d="M40.4 397.7 37 391.1M188.3 383.4 184.2 390.9 180.4 397.7" stroke="#bba891" stroke-width="2.60" fill="none" stroke-linecap="butt" stroke-linejoin="round"/>
<path d="M37.2 397.8 35.3 394M189.5 385.4 186.2 391.6 182.8 397.8" stroke="#ada7a0" stroke-width="2.60" fill="none" stroke-linecap="butt" stroke-linejoin="round"/>
<path d="M34.1 397.7 33.7 396.9M190.7 387.4 185.2 397.7" stroke="#9da5b0" stroke-width="2.60" fill="none" stroke-linecap="butt" stroke-linejoin="round"/>
<path d="M191.8 389.4 187.5 397.7" stroke="#8ba2c2" stroke-width="2.60" fill="none" stroke-linecap="butt" stroke-linejoin="round"/>
<path d="M192.9 391.4 189.6 397.7" stroke="#7a9ed4" stroke-width="2.60" fill="none" stroke-linecap="butt" stroke-linejoin="round"/>
<path d="M194 393.2 191.7 397.7" stroke="#609be1" stroke-width="2.60" fill="none" stroke-linecap="butt" stroke-linejoin="round"/>
<path d="M195.1 395.1 193.7 397.7" stroke="#4597ee" stroke-width="2.60" fill="none" stroke-linecap="butt" stroke-linejoin="round"/>
<path d="M196.2 396.7 195.6 397.9" stroke="#2a93fb" stroke-width="2.60" fill="none" stroke-linecap="butt" stroke-linejoin="round"/>
<path d="M33.1 397.9L196.9 397.9L115.0 256.0Z" stroke="#111" stroke-width="1.1" fill="none" stroke-linejoin="miter"/>
<path d="M180.5 369.5h2.2M65.9 397.9l-1.1 1.9M98.6 284.4l-1.1 -1.9M164.1 341.2h2.2M98.6 397.9l-1.1 1.9M82.2 312.8l-1.1 -1.9M147.8 312.8h2.2M131.4 397.9l-1.1 1.9M65.9 341.2l-1.1 -1.9M131.4 284.4h2.2M164.1 397.9l-1.1 1.9M49.5 369.5l-1.1 -1.9M115.0 256.0h2.2M196.9 397.9l-1.1 1.9M33.1 397.9l-1.1 -1.9" stroke="#333" stroke-width="0.6" fill="none"/>
<circle cx="115.0" cy="256.0" r="4.13" fill="#000" fill-opacity="1.00"/>
<circle cx="135.5" cy="291.5" r="3.66" fill="#000" fill-opacity="0.85"/>
<circle cx="115.0" cy="312.8" r="5.07" fill="#000" fill-opacity="0.40"/>
<circle cx="115.0" cy="312.8" r="4.01" fill="#000" fill-opacity="1.00"/>
<circle cx="156.0" cy="327.0" r="3.42" fill="#000" fill-opacity="0.70"/>
<circle cx="98.6" cy="341.2" r="3.19" fill="#000" fill-opacity="0.70"/>
<circle cx="131.4" cy="341.2" r="4.13" fill="#000" fill-opacity="1.00"/>
<circle cx="115.0" cy="350.6" r="5.07" fill="#000" fill-opacity="1.00"/>
<circle cx="82.2" cy="369.5" r="4.60" fill="#000" fill-opacity="1.00"/>
<circle cx="115.0" cy="369.5" r="4.13" fill="#000" fill-opacity="0.50"/>
<circle cx="147.8" cy="369.5" r="5.55" fill="#000" fill-opacity="0.40"/>
<circle cx="147.8" cy="369.5" r="4.48" fill="#000" fill-opacity="1.00"/>
<circle cx="176.4" cy="362.4" r="4.60" fill="#000" fill-opacity="0.45"/>
<circle cx="53.6" cy="362.4" r="4.60" fill="#000" fill-opacity="0.40"/>
<circle cx="53.6" cy="362.4" r="3.07" fill="#000" fill-opacity="0.60"/>
<circle cx="74.1" cy="397.9" r="3.66" fill="#000" fill-opacity="0.85"/>
<circle cx="115.0" cy="397.9" r="2.12" fill="#000" fill-opacity="0.50"/>
<circle cx="156.0" cy="397.9" r="3.89" fill="#000" fill-opacity="0.50"/>
<circle cx="196.9" cy="397.9" r="1.42" fill="#000" fill-opacity="1.00"/>
<circle cx="33.1" cy="397.9" r="4.13" fill="#000" fill-opacity="0.40"/>
<circle cx="33.1" cy="397.9" r="2.36" fill="#000" fill-opacity="0.80"/>
<text x="185.6" y="372.5" font-size="8.4" fill="#333">20</text>
<text transform="translate(64.2 400.8) rotate(-60)" text-anchor="end" font-size="8.4" fill="#333" dy="3">20</text>
<text transform="translate(96.9 281.5) rotate(60)" text-anchor="end" font-size="8.4" fill="#333" dy="3">20</text>
<text x="169.2" y="344.2" font-size="8.4" fill="#333">40</text>
<text transform="translate(96.9 400.8) rotate(-60)" text-anchor="end" font-size="8.4" fill="#333" dy="3">40</text>
<text transform="translate(80.5 309.8) rotate(60)" text-anchor="end" font-size="8.4" fill="#333" dy="3">40</text>
<text x="152.9" y="315.8" font-size="8.4" fill="#333">60</text>
<text transform="translate(129.7 400.8) rotate(-60)" text-anchor="end" font-size="8.4" fill="#333" dy="3">60</text>
<text transform="translate(64.2 338.2) rotate(60)" text-anchor="end" font-size="8.4" fill="#333" dy="3">60</text>
<text x="136.5" y="287.4" font-size="8.4" fill="#333">80</text>
<text transform="translate(162.4 400.8) rotate(-60)" text-anchor="end" font-size="8.4" fill="#333" dy="3">80</text>
<text transform="translate(47.8 366.6) rotate(60)" text-anchor="end" font-size="8.4" fill="#333" dy="3">80</text>
<text x="120.1" y="259.0" font-size="8.4" fill="#333">100</text>
<text transform="translate(195.2 400.8) rotate(-60)" text-anchor="end" font-size="8.4" fill="#333" dy="3">100</text>
<text transform="translate(31.4 395.0) rotate(60)" text-anchor="end" font-size="8.4" fill="#333" dy="3">100</text>
<text x="115.2" y="248.2" font-size="11.5" text-anchor="middle" fill="#000">C</text>
<text x="21.6" y="407.4" font-size="11.5" text-anchor="middle" fill="#000">R</text>
<text x="208.4" y="407.4" font-size="11.5" text-anchor="middle" fill="#000">S</text>
<path d="M74.9 291.0L42.2 346.8M47.6 343.5L42.2 346.8L42.5 340.5" stroke="#111" stroke-width="0.9" fill="none" stroke-linejoin="miter"/>
<text transform="translate(57.1 318.0) rotate(-60)" text-anchor="middle" font-size="8.8" fill="#222">Ruderals</text>
<path d="M189.1 346.6L155.7 290.3M156.0 296.6L155.7 290.3L161.1 293.6" stroke="#111" stroke-width="0.9" fill="none" stroke-linejoin="miter"/>
<text transform="translate(173.9 317.5) rotate(60)" text-anchor="middle" font-size="8.8" fill="#222">Competitors</text>
<path d="M82.5 414.0L148.6 414.0M143.0 411.0L148.6 414.0L143.0 417.0" stroke="#111" stroke-width="0.9" fill="none" stroke-linejoin="miter"/>
<text x="115.0" y="422.2" text-anchor="middle" font-size="8.8" fill="#222">Stress tolerators</text>
<defs><linearGradient id="g4" x1="0" y1="0" x2="0" y2="1"><stop offset="0.000" stop-color="#cd0404"/><stop offset="0.050" stop-color="#d52107"/><stop offset="0.100" stop-color="#dc3e0a"/><stop offset="0.150" stop-color="#e3540b"/><stop offset="0.200" stop-color="#e86508"/><stop offset="0.250" stop-color="#ee7606"/><stop offset="0.300" stop-color="#f2800a"/><stop offset="0.350" stop-color="#f68b0e"/><stop offset="0.400" stop-color="#f99612"/><stop offset="0.450" stop-color="#fca115"/><stop offset="0.500" stop-color="#ffad18"/><stop offset="0.550" stop-color="#f2ac37"/><stop offset="0.600" stop-color="#e5ac55"/><stop offset="0.650" stop-color="#d7ab72"/><stop offset="0.700" stop-color="#c5a985"/><stop offset="0.750" stop-color="#b4a898"/><stop offset="0.800" stop-color="#a1a6ad"/><stop offset="0.850" stop-color="#8aa1c4"/><stop offset="0.900" stop-color="#709dd9"/><stop offset="0.950" stop-color="#4d98ea"/><stop offset="1.000" stop-color="#2a93fb"/></linearGradient></defs>
<rect x="5.1" y="244.1" width="15.3" height="75.5" fill="url(#g4)"/>
<rect x="5.1" y="244.1" width="15.3" height="75.5" fill="url(#side)"/>
<text x="24.6" y="254.3" font-size="8.8" fill="#000">6.0</text>
<text x="24.6" y="267.5" font-size="8.8" fill="#000">5.5</text>
<text x="24.6" y="281.1" font-size="8.8" fill="#000">5.0</text>
<text x="24.6" y="294.6" font-size="8.8" fill="#000">4.5</text>
<text x="24.6" y="307.9" font-size="8.8" fill="#000">4.0</text>
<text x="24.6" y="321.4" font-size="8.8" fill="#000">3.5</text>
<path d="M5.1 251.2h3M20.4 251.2h-3M5.1 264.4h3M20.4 264.4h-3M5.1 278.0h3M20.4 278.0h-3M5.1 291.5h3M20.4 291.5h-3M5.1 304.8h3M20.4 304.8h-3M5.1 318.3h3M20.4 318.3h-3" stroke="#fff" stroke-width="0.6" stroke-opacity="0.8" fill="none"/>
<text x="5.4" y="233.6" font-size="10.55" fill="#000" stroke="#000" stroke-width="0.15">LAI [m²/m²]; R²<tspan dx="0.3" dy="2.0" font-size="7.7">adj</tspan><tspan dy="-2.0"> </tspan>0.36</text></g>
<g><path d="M425.1 384.1L278.0 384.1M359.7 270.9L286.2 398.3M343.4 270.9L417.0 398.3M417.0 370.0L286.2 370.0M367.9 285.0L302.5 398.3M335.2 285.0L400.6 398.3M408.8 355.8L294.3 355.8M376.1 299.2L318.9 398.3M327.0 299.2L384.2 398.3M400.6 341.7L302.5 341.7M384.2 313.3L335.2 398.3M318.9 313.3L367.9 398.3M392.4 327.5L310.7 327.5M392.4 327.5L351.6 398.3M310.7 327.5L351.6 398.3M384.2 313.3L318.9 313.3M400.6 341.7L367.9 398.3M302.5 341.7L335.2 398.3M376.1 299.2L327.0 299.2M408.8 355.8L384.2 398.3M294.3 355.8L318.9 398.3M367.9 285.0L335.2 285.0M417.0 370.0L400.6 398.3M286.2 370.0L302.5 398.3M359.7 270.9L343.4 270.9M425.1 384.1L417.0 398.3M278.0 384.1L286.2 398.3" stroke="#e4e4e4" stroke-width="0.6" fill="none"/>
<path d="M356 379.3 354.2 379.1 352.5 378.7 350.8 377.9 349.1 376.8 347.7 375.5 346.3 373.8 344.9 371.8 343.8 369.8 342.8 367.5 342 365 341.3 362.4 340.8 359.5 340.5 356.7 340.4 353.8 340.5 351 340.7 348.1 341.2 345.2 341.8 342.4 342.7 339.5 343.7 336.7 344.9 334.1 346.3 331.4 347.7 329.1 349.4 326.7 351.1 324.6 353.1 322.6 354.8 321.1 356.8 319.8 358.5 318.9 360.2 318.3 361.9 318 363.6 318 365.3 318.4 366.7 319.1 368.4 320.2 369.9 321.5 371.3 323.1 372.7 325.2 373.8 327.2 375 329.6 376 332.4 376.8 334.9 377.5 337.8 378 340.7 378.3 343.5 378.4 346.4 378.3 349.2 378.1 351.9 377.7 354.7 377.1 357.2 376.4 359.5 375.4 362.1 374.4 364.4 373 367 371.6 369.2 370.2 371 368.4 373 366.7 374.6 364.8 376.1 363 377.2 361.3 378.1 359.4 378.8 357.7 379.2 356 379.3" stroke="#d11306" stroke-width="2.60" fill="none" stroke-linecap="butt" stroke-linejoin="round"/>
<path d="M378.8 304.1 382.6 318.6 384.3 325.9 385.1 329.8 385.6 333.2 386 336.7 386.3 340.1 386.4 343.5 386.4 346.9 386.1 350.4 385.8 353.7 385.2 357 384.4 360.1 383.5 363.2 382.5 366.1 380.9 369.6 379.2 372.8 377.2 376 375 379.2 372.7 381.8 370.1 384.4 367.5 386.7 364.7 388.7 362.2 390.1 359.6 391.2 357.1 391.9 354.5 392.3 352 392.2 349.7 391.7 347.4 390.8 345.2 389.5 343.5 388.2 342 386.8 340.6 385.2 339.2 383.4 337.8 381.3 336.6 379.2 335.4 376.7 334.3 374.1 333.2 371.4 332.4 368.7 331.5 365.6 330.9 362.7 330.3 359.5 329.8 356.4 329.3 350.1 329.2 344.4 329.5 338.4 330.2 332.4 331.4 326.4 332.7 321.1 334.4 315.4 336.1 310.5 339.6 300.9 340.8 297.5 341.7 294 342.3 291.2 342.5 289.2 342.5 287.5 342.5 285.8 342.2 284 341.9 282.3 341.3 280.6 340.6 278.9 339.8 277.1" stroke="#d72908" stroke-width="2.60" fill="none" stroke-linecap="butt" stroke-linejoin="round"/>
<path d="M341.8 398.1 339.2 395.9 336.6 393 334.1 389.5 331.8 385.6 329.6 381 327.6 376.1 325.9 370.9 324.3 365.3 323.2 360.1 322.3 355 321.6 349.5 321.1 343.8 320.9 339.2 320.7 334.4 320.8 316.6 320.6 310.3M389.9 323.2 390.8 330.4 391.4 336.4 391.6 342.1 391.5 347.2 391.1 352.4 390.3 357.4 389.2 362.3 387.7 367 385.8 371.8 383.5 376.4 380.6 381 377.5 385.3 374.1 389.2 370.4 392.8 366.7 395.8 364.8 397.2 363 398.3" stroke="#dd3f0b" stroke-width="2.60" fill="none" stroke-linecap="butt" stroke-linejoin="round"/>
<path d="M332.2 398.1 330.4 395.4 328.5 392.1 326.7 388.6 325.1 385 323.6 381.3 322 377 320.6 372.7 319.3 368.4 317.3 360.1 315.6 351.2 314.4 342.9 312.1 325.2M395.3 332.6 395.6 338.1 395.7 342.9 395.5 347.5 395.2 352.1 394.6 356.4 393.8 360.7 392.8 364.7 391.4 368.9 389.9 373 388 376.9 386 380.7 383.8 384.4 381.2 388 378.4 391.7 375.5 394.9 372.4 398.1" stroke="#e2510b" stroke-width="2.60" fill="none" stroke-linecap="butt" stroke-linejoin="round"/>
<path d="M325.8 398.1 322.9 392.4 320.1 385.8 317.5 378.7 315.1 371.3 313.1 364.1 311.3 356.7 309.7 349 306.8 334.4M399.1 339.2 399.1 343.5 399 347.8 398.7 351.8 398.2 355.8 397.5 359.8 396.7 363.5 395.7 367.2 394.6 370.7 393.2 374.4 391.6 377.8 389.9 381.3 388 384.7 385.8 388.3 383.5 391.6 380.9 394.9 378.3 398.1" stroke="#e65e09" stroke-width="2.60" fill="none" stroke-linecap="butt" stroke-linejoin="round"/>
<path d="M320.6 398.1 318.1 392.4 315.7 386.4 313.4 380.1 311.4 373.8 309.5 367.5 307.7 361 302.8 341.2M402.1 344.4 402 348.4 401.7 352.1 401.3 355.8 400.7 359.2 400.1 362.7 399.2 366.1 398.3 369.5 397.2 372.7 396 375.9 394.6 379.2 393 382.4 391.3 385.6 389.4 388.8 387.5 391.9 385.2 395.1 382.9 398.2" stroke="#ea6b08" stroke-width="2.60" fill="none" stroke-linecap="butt" stroke-linejoin="round"/>
<path d="M316 398.1 311.9 387.6 308 376.1 304.3 364.1 299.5 346.9M404.7 349 404 355.8 403 362.1 402.4 365.3 401.6 368.4 399.7 374.4 398.5 377.4 397.2 380.4 395.8 383.6 394.3 386.4 390.9 392.3 386.9 398.2" stroke="#ee7706" stroke-width="2.60" fill="none" stroke-linecap="butt" stroke-linejoin="round"/>
<path d="M312 398.1 308.2 388.1 304.6 377.5 301.4 367.5 296.6 351.9M406.9 352.7 406.2 359 405.1 365 403.6 370.7 401.9 376.1 399.7 381.6 397.1 387 394 392.6 390.5 398.1" stroke="#f17f09" stroke-width="2.60" fill="none" stroke-linecap="butt" stroke-linejoin="round"/>
<path d="M308.3 398.2 304.9 388.8 301.7 379.8 294.1 356.4M408.9 356.4 408.1 361.8 407 367.3 405.6 372.7 403.9 377.8 401.9 382.8 399.6 387.8 396.8 392.9 393.7 398.1" stroke="#f4870c" stroke-width="2.60" fill="none" stroke-linecap="butt" stroke-linejoin="round"/>
<path d="M304.8 398.1 298.9 381.4 291.8 360.4M410.8 359.5 409.9 364.7 408.9 369.5 407.5 374.4 405.9 379.2 404 384.1 401.8 388.7 399.4 393.4 396.5 398.3" stroke="#f78f0f" stroke-width="2.60" fill="none" stroke-linecap="butt" stroke-linejoin="round"/>
<path d="M301.5 398.1 289.7 364.1M412.5 362.4 411.7 367 410.6 371.5 409.3 376.1 407.9 380.4 406.2 384.7 404.2 389.1 401.9 393.6 399.4 398.2" stroke="#fa9712" stroke-width="2.60" fill="none" stroke-linecap="butt" stroke-linejoin="round"/>
<path d="M298.4 398.1 287.7 367.5M414.1 365.3 413.3 369.5 412.2 373.8 411 377.8 409.7 381.8 408.1 385.8 406.2 390.1 404.2 394.1 401.9 398.3" stroke="#fca014" stroke-width="2.60" fill="none" stroke-linecap="butt" stroke-linejoin="round"/>
<path d="M295.5 398.3 290.9 385 285.8 370.7M415.6 367.8 414.8 371.8 413.8 375.5 412.7 379.3 411.5 383 410 386.7 408.4 390.4 406.5 394.4 404.5 398.1" stroke="#fea917" stroke-width="2.60" fill="none" stroke-linecap="butt" stroke-linejoin="round"/>
<path d="M292.6 398.3 288.5 386.4 284 373.8M417.1 370.4 416.2 374.1 415.3 377.5 414.3 381 413.1 384.4 411.7 387.8 410.3 391.3 408.6 394.7 406.9 398.1" stroke="#faad25" stroke-width="2.60" fill="none" stroke-linecap="butt" stroke-linejoin="round"/>
<path d="M289.9 398.1 286.3 387.8 282.4 377M418.5 373 416.8 379.3 414.8 385.6 412.2 391.8 409.1 398.1" stroke="#f0ac3c" stroke-width="2.60" fill="none" stroke-linecap="butt" stroke-linejoin="round"/>
<path d="M287.3 398.2 284.2 389.3 280.6 379.5M419.8 375.2 418.3 381 416.4 386.7 414.1 392.4 411.3 398.2" stroke="#e5ac53" stroke-width="2.60" fill="none" stroke-linecap="butt" stroke-linejoin="round"/>
<path d="M284.7 398.1 279.1 382.4M421.1 377.5 419.7 382.7 417.9 387.8 415.9 393 413.5 398.1" stroke="#dbab6b" stroke-width="2.60" fill="none" stroke-linecap="butt" stroke-linejoin="round"/>
<path d="M282.2 398.1 277.6 385M422.4 379.5 421.1 384.1 419.5 388.8 417.7 393.6 415.6 398.2" stroke="#cfaa7b" stroke-width="2.60" fill="none" stroke-linecap="butt" stroke-linejoin="round"/>
<path d="M279.9 398.3 276.1 387.6M423.7 381.8 422.4 386.1 421 390.1 419.4 394.1 417.6 398.1" stroke="#c2a989" stroke-width="2.60" fill="none" stroke-linecap="butt" stroke-linejoin="round"/>
<path d="M277.5 398.1 274.7 390.1M424.9 383.8 423.8 387.5 422.6 391 421.2 394.5 419.7 398.1" stroke="#b5a898" stroke-width="2.60" fill="none" stroke-linecap="butt" stroke-linejoin="round"/>
<path d="M275.2 398.1 273.3 392.7M426.1 386.1 424.1 392.1 421.6 398.1" stroke="#a7a7a7" stroke-width="2.60" fill="none" stroke-linecap="butt" stroke-linejoin="round"/>
<path d="M273 398.1 271.9 395M427.3 388.1 425.5 393.3 423.5 398.3" stroke="#96a4b8" stroke-width="2.60" fill="none" stroke-linecap="butt" stroke-linejoin="round"/>
<path d="M270.8 398.1 270.5 397.3M428.4 390.1 427.1 394.1 425.5 398.2" stroke="#84a0c9" stroke-width="2.60" fill="none" stroke-linecap="butt" stroke-linejoin="round"/>
<path d="M429.6 392.1 427.4 398.1" stroke="#709dda" stroke-width="2.60" fill="none" stroke-linecap="butt" stroke-linejoin="round"/>
<path d="M430.8 394.1 429.3 398.1" stroke="#5599e6" stroke-width="2.60" fill="none" stroke-linecap="butt" stroke-linejoin="round"/>
<path d="M432 396.1 431.2 398.3" stroke="#3a95f3" stroke-width="2.60" fill="none" stroke-linecap="butt" stroke-linejoin="round"/>
<path d="M433.2 398.1 433.1 398.1" stroke="#2a93fb" stroke-width="2.60" fill="none" stroke-linecap="butt" stroke-linejoin="round"/>
<path d="M269.8 398.3L433.3 398.3L351.6 256.7Z" stroke="#111" stroke-width="1.1" fill="none" stroke-linejoin="miter"/>
<path d="M417.0 370.0h2.2M302.5 398.3l-1.1 1.9M335.2 285.0l-1.1 -1.9M400.6 341.7h2.2M335.2 398.3l-1.1 1.9M318.9 313.3l-1.1 -1.9M384.2 313.3h2.2M367.9 398.3l-1.1 1.9M302.5 341.7l-1.1 -1.9M367.9 285.0h2.2M400.6 398.3l-1.1 1.9M286.2 370.0l-1.1 -1.9M351.6 256.7h2.2M433.3 398.3l-1.1 1.9M269.8 398.3l-1.1 -1.9" stroke="#333" stroke-width="0.6" fill="none"/>
<circle cx="351.6" cy="256.7" r="4.60" fill="#000" fill-opacity="1.00"/>
<circle cx="372.0" cy="292.1" r="4.60" fill="#000" fill-opacity="1.00"/>
<circle cx="351.6" cy="313.3" r="4.84" fill="#000" fill-opacity="1.00"/>
<circle cx="392.4" cy="327.5" r="4.60" fill="#000" fill-opacity="0.75"/>
<circle cx="335.2" cy="341.7" r="4.60" fill="#000" fill-opacity="0.75"/>
<circle cx="367.9" cy="341.7" r="5.07" fill="#000" fill-opacity="1.00"/>
<circle cx="351.6" cy="351.1" r="5.07" fill="#000" fill-opacity="1.00"/>
<circle cx="318.9" cy="370.0" r="5.31" fill="#000" fill-opacity="1.00"/>
<circle cx="351.6" cy="370.0" r="4.60" fill="#000" fill-opacity="0.50"/>
<circle cx="384.2" cy="370.0" r="5.07" fill="#000" fill-opacity="1.00"/>
<circle cx="412.9" cy="362.9" r="5.07" fill="#000" fill-opacity="0.45"/>
<circle cx="290.2" cy="362.9" r="5.07" fill="#000" fill-opacity="0.70"/>
<circle cx="310.7" cy="398.3" r="4.60" fill="#000" fill-opacity="1.00"/>
<circle cx="351.6" cy="398.3" r="4.60" fill="#000" fill-opacity="0.50"/>
<circle cx="392.4" cy="398.3" r="5.07" fill="#000" fill-opacity="0.50"/>
<circle cx="433.3" cy="398.3" r="3.66" fill="#000" fill-opacity="1.00"/>
<circle cx="269.8" cy="398.3" r="4.60" fill="#000" fill-opacity="0.70"/>
<text x="422.1" y="373.0" font-size="8.4" fill="#333">20</text>
<text transform="translate(300.8 401.2) rotate(-60)" text-anchor="end" font-size="8.4" fill="#333" dy="3">20</text>
<text transform="translate(333.5 282.1) rotate(60)" text-anchor="end" font-size="8.4" fill="#333" dy="3">20</text>
<text x="405.7" y="344.7" font-size="8.4" fill="#333">40</text>
<text transform="translate(333.5 401.2) rotate(-60)" text-anchor="end" font-size="8.4" fill="#333" dy="3">40</text>
<text transform="translate(317.2 310.4) rotate(60)" text-anchor="end" font-size="8.4" fill="#333" dy="3">40</text>
<text x="389.3" y="316.3" font-size="8.4" fill="#333">60</text>
<text transform="translate(366.2 401.2) rotate(-60)" text-anchor="end" font-size="8.4" fill="#333" dy="3">60</text>
<text transform="translate(300.8 338.7) rotate(60)" text-anchor="end" font-size="8.4" fill="#333" dy="3">60</text>
<text x="373.0" y="288.0" font-size="8.4" fill="#333">80</text>
<text transform="translate(398.9 401.2) rotate(-60)" text-anchor="end" font-size="8.4" fill="#333" dy="3">80</text>
<text transform="translate(284.5 367.0) rotate(60)" text-anchor="end" font-size="8.4" fill="#333" dy="3">80</text>
<text x="356.6" y="259.7" font-size="8.4" fill="#333">100</text>
<text transform="translate(431.6 401.2) rotate(-60)" text-anchor="end" font-size="8.4" fill="#333" dy="3">100</text>
<text transform="translate(268.1 395.4) rotate(60)" text-anchor="end" font-size="8.4" fill="#333" dy="3">100</text>
<text x="351.8" y="248.9" font-size="11.5" text-anchor="middle" fill="#000">C</text>
<text x="258.3" y="407.8" font-size="11.5" text-anchor="middle" fill="#000">R</text>
<text x="444.8" y="407.8" font-size="11.5" text-anchor="middle" fill="#000">S</text>
<path d="M311.6 291.4L278.9 347.2M284.3 343.9L278.9 347.2L279.2 340.9" stroke="#111" stroke-width="0.9" fill="none" stroke-linejoin="miter"/>
<text transform="translate(293.8 318.4) rotate(-60)" text-anchor="middle" font-size="8.8" fill="#222">Ruderals</text>
<path d="M425.5 347.0L392.1 290.7M392.4 297.0L392.1 290.7L397.5 294.0" stroke="#111" stroke-width="0.9" fill="none" stroke-linejoin="miter"/>
<text transform="translate(410.3 318.0) rotate(60)" text-anchor="middle" font-size="8.8" fill="#222">Competitors</text>
<path d="M319.2 414.4L385.3 414.4M379.7 411.4L385.3 414.4L379.7 417.4" stroke="#111" stroke-width="0.9" fill="none" stroke-linejoin="miter"/>
<text x="351.8" y="422.6" text-anchor="middle" font-size="8.8" fill="#222">Stress tolerators</text>
<defs><linearGradient id="g5" x1="0" y1="0" x2="0" y2="1"><stop offset="0.000" stop-color="#cd0404"/><stop offset="0.050" stop-color="#d52107"/><stop offset="0.100" stop-color="#dc3e0a"/><stop offset="0.150" stop-color="#e3540b"/><stop offset="0.200" stop-color="#e86508"/><stop offset="0.250" stop-color="#ee7606"/><stop offset="0.300" stop-color="#f2800a"/><stop offset="0.350" stop-color="#f68b0e"/><stop offset="0.400" stop-color="#f99612"/><stop offset="0.450" stop-color="#fca115"/><stop offset="0.500" stop-color="#ffad18"/><stop offset="0.550" stop-color="#f2ac37"/><stop offset="0.600" stop-color="#e5ac55"/><stop offset="0.650" stop-color="#d7ab72"/><stop offset="0.700" stop-color="#c5a985"/><stop offset="0.750" stop-color="#b4a898"/><stop offset="0.800" stop-color="#a1a6ad"/><stop offset="0.850" stop-color="#8aa1c4"/><stop offset="0.900" stop-color="#709dd9"/><stop offset="0.950" stop-color="#4d98ea"/><stop offset="1.000" stop-color="#2a93fb"/></linearGradient></defs>
<rect x="241.0" y="244.1" width="15.3" height="75.5" fill="url(#g5)"/>
<rect x="241.0" y="244.1" width="15.3" height="75.5" fill="url(#side)"/>
<text x="260.5" y="263.6" font-size="8.8" fill="#000">0.9</text>
<text x="260.5" y="281.6" font-size="8.8" fill="#000">0.8</text>
<text x="260.5" y="299.8" font-size="8.8" fill="#000">0.7</text>
<text x="260.5" y="317.5" font-size="8.8" fill="#000">0.6</text>
<path d="M241.0 260.5h3M256.3 260.5h-3M241.0 278.5h3M256.3 278.5h-3M241.0 296.7h3M256.3 296.7h-3M241.0 314.4h3M256.3 314.4h-3" stroke="#fff" stroke-width="0.6" stroke-opacity="0.8" fill="none"/>
<text x="241.3" y="233.6" font-size="10.55" fill="#000" stroke="#000" stroke-width="0.15">fAPAR [%]; R²<tspan dx="0.3" dy="2.0" font-size="7.7">adj</tspan><tspan dy="-2.0"> </tspan>0.4</text></g>
<g><path d="M661.7 384.0L513.3 384.0M595.7 269.9L521.6 398.3M579.3 269.9L653.4 398.3M653.4 369.8L521.6 369.8M604.0 284.1L538.1 398.3M571.0 284.1L636.9 398.3M645.2 355.5L529.8 355.5M612.2 298.4L554.5 398.3M562.8 298.4L620.5 398.3M636.9 341.2L538.1 341.2M620.5 312.7L571.0 398.3M554.5 312.7L604.0 398.3M628.7 326.9L546.3 326.9M628.7 326.9L587.5 398.3M546.3 326.9L587.5 398.3M620.5 312.7L554.5 312.7M636.9 341.2L604.0 398.3M538.1 341.2L571.0 398.3M612.2 298.4L562.8 298.4M645.2 355.5L620.5 398.3M529.8 355.5L554.5 398.3M604.0 284.1L571.0 284.1M653.4 369.8L636.9 398.3M521.6 369.8L538.1 398.3M595.7 269.9L579.3 269.9M661.7 384.0L653.4 398.3M513.3 384.0L521.6 398.3" stroke="#e4e4e4" stroke-width="0.6" fill="none"/>
<path d="M508.2 392.9 512.7 398.2" stroke="#4997ec" stroke-width="2.60" fill="none" stroke-linecap="butt" stroke-linejoin="round"/>
<path d="M511.2 388.3 515.5 393.5 519.5 398.2" stroke="#689cdd" stroke-width="2.60" fill="none" stroke-linecap="butt" stroke-linejoin="round"/>
<path d="M513.9 383.1 520.4 391.2 526.5 398.1" stroke="#82a0cc" stroke-width="2.60" fill="none" stroke-linecap="butt" stroke-linejoin="round"/>
<path d="M516.9 378.2 521.3 384 525.5 389.2 529.5 393.8 533.6 398.1" stroke="#96a4b7" stroke-width="2.60" fill="none" stroke-linecap="butt" stroke-linejoin="round"/>
<path d="M519.7 373.1 525.3 380.6 530.7 387.2 535.7 392.9 540.7 398.1" stroke="#aaa7a4" stroke-width="2.60" fill="none" stroke-linecap="butt" stroke-linejoin="round"/>
<path d="M522.7 367.9 529.7 377.4 535.9 385.2 539 388.8 542 392.1 545.1 395.3 548.2 398.2" stroke="#b9a892" stroke-width="2.60" fill="none" stroke-linecap="butt" stroke-linejoin="round"/>
<path d="M525.8 362.7 530.1 368.7 533.9 373.9 537.6 378.8 541.1 383.1 544.7 387.3 548.4 391.2 551.9 394.7 555.7 398.1" stroke="#c9aa81" stroke-width="2.60" fill="none" stroke-linecap="butt" stroke-linejoin="round"/>
<path d="M528.9 357.2 533.8 364.4 538.3 370.8 542.5 376.2 546.7 381.4 550.8 386 555 390.5 559.2 394.4 563.6 398.2" stroke="#d8ab70" stroke-width="2.60" fill="none" stroke-linecap="butt" stroke-linejoin="round"/>
<path d="M532.1 351.6 537.7 360.1 542.7 367.3 547.5 373.6 552.2 379.4 556.8 384.6 561.6 389.5 566.7 394.1 571.7 398.1" stroke="#e4ac56" stroke-width="2.60" fill="none" stroke-linecap="butt" stroke-linejoin="round"/>
<path d="M535.5 346 541.5 355.5 547.2 363.8 552.5 371 557.9 377.7 563.3 383.6 568.8 388.9 571.6 391.4 574.5 393.8 577.3 396 580.3 398.1" stroke="#f0ac3b" stroke-width="2.60" fill="none" stroke-linecap="butt" stroke-linejoin="round"/>
<path d="M538.9 340.2 545.6 351 551.9 360.4 555 364.7 558 368.7 561 372.5 563.9 375.9 567 379.4 570 382.6 573.1 385.5 576.2 388.3 579.3 391 582.6 393.5 585.9 395.9 589.4 398.2" stroke="#fcad20" stroke-width="2.60" fill="none" stroke-linecap="butt" stroke-linejoin="round"/>
<path d="M542.3 333.9 546 340.2 549.7 346.3 553.2 351.7 556.7 356.9 560.1 361.8 563.4 366.1 566.8 370.4 570 374.2 573.5 378 576.9 381.4 580.3 384.6 583.9 387.7 587.6 390.6 591.2 393.2 595.2 395.8 599.1 398.2" stroke="#fda616" stroke-width="2.60" fill="none" stroke-linecap="butt" stroke-linejoin="round"/>
<path d="M546 327.5 550.1 334.7 554 341.4 557.9 347.7 561.7 353.5 565.6 358.9 569.2 363.8 572.9 368.4 576.5 372.6 580.2 376.5 584 380.3 587.9 383.8 592.2 387.2 596.2 390.2 600.5 393 605.1 395.7 609.7 398.2" stroke="#fb9b13" stroke-width="2.60" fill="none" stroke-linecap="butt" stroke-linejoin="round"/>
<path d="M549.8 320.9 554.2 328.8 558.6 336.5 562.8 343.4 567 350 571.2 356.1 575.3 361.5 579.3 366.4 583.4 371.1 587.5 375.4 591.8 379.4 596.3 383.1 600.9 386.6 605.7 389.8 610.8 392.9 616 395.7 621.4 398.2" stroke="#f89110" stroke-width="2.60" fill="none" stroke-linecap="butt" stroke-linejoin="round"/>
<path d="M553.9 313.9 558.5 322.6 563.3 331.3 568.1 339.3 572.8 346.7 577.2 353.2 581.7 359.2 586.2 364.7 590.9 369.9 595.6 374.5 600.5 378.8 605.7 382.8 610.8 386.4 616.4 389.8 622.3 392.9 628.3 395.7 634.9 398.3" stroke="#f5880d" stroke-width="2.60" fill="none" stroke-linecap="butt" stroke-linejoin="round"/>
<path d="M558.2 306.4 563 316 568.2 325.7 573.6 335 578.9 343.4 583.8 350.6 588.8 357.2 593.9 363.3 599.1 368.7 604.3 373.6 607 375.9 609.9 378.2 615.6 382.3 621.7 386.1 628 389.5 634.9 392.7 642.3 395.6 650.3 398.2" stroke="#f17f09" stroke-width="2.60" fill="none" stroke-linecap="butt" stroke-linejoin="round"/>
<path d="M562.8 298.4 567.7 308.8 573.4 319.7 579.3 330.1 582.5 335.3 585.4 339.9 588.2 344.1 591.1 348.1 593.9 352 596.7 355.5 599.6 358.9 602.5 362.1 605.3 365 608.3 367.9 611.1 370.5 614.3 373.1 617.6 375.7 620.8 378 624.3 380.2 627.6 382.3 631.3 384.3 634.9 386.2 638.9 388 642.6 389.6 646.6 391.2 650.9 392.8 655.2 394.2 659.7 395.6 669.8 398.2" stroke="#ee7506" stroke-width="2.60" fill="none" stroke-linecap="butt" stroke-linejoin="round"/>
<path d="M567.8 289.8 569.9 294.6 572.2 299.6 577.3 309.9 583.1 320.6 589.1 330.7 594.5 339.1 600 346.8 602.7 350.3 605.4 353.6 608.2 356.9 611 359.8 613.7 362.5 616.5 365.2 619.4 367.7 622.3 370 625.1 372.2 628.4 374.5 631.5 376.5 634.9 378.5 638.3 380.4 641.9 382.3 645.6 384 649.2 385.5 653.2 387.1 657.2 388.6 665.8 391.3" stroke="#e96608" stroke-width="2.60" fill="none" stroke-linecap="butt" stroke-linejoin="round"/>
<path d="M573.5 280.2 575.2 284.6 577 288.9 581.2 297.8 586.2 307.7 591.9 318.1 597.6 327.5 603.1 335.9 608.3 343.1 611 346.5 613.6 349.7 618.5 355.2 623.7 360.2 626.5 362.7 629.1 364.9 634.7 369 640.6 372.8 646.9 376.4 653.5 379.5 660.6 382.4" stroke="#e4570a" stroke-width="2.60" fill="none" stroke-linecap="butt" stroke-linejoin="round"/>
<path d="M579.9 268.8 582.3 275.6 585.4 283 589.1 291 593.4 299.4 598.5 308.8 604.2 318.4 609.7 326.9 615.1 334.7 619.5 340.5 623.8 345.7 628.3 350.5 632.9 354.9 637.6 358.9 642.6 362.7 647.7 366.1 652.9 369.1" stroke="#de460b" stroke-width="2.60" fill="none" stroke-linecap="butt" stroke-linejoin="round"/>
<path d="M586.9 256.9 588.1 261.5 589.6 266.1 591.4 270.7 593.5 275.6 595.9 280.8 598.8 286.3 601.9 292.1 605.4 298 609.7 305.1 614.3 312.3 618.8 319.1 623.1 325.3 627.1 330.6 630.8 335.3 634.6 339.6 638.2 343.4" stroke="#d82f09" stroke-width="2.60" fill="none" stroke-linecap="butt" stroke-linejoin="round"/>
<path d="M505.1 398.3L669.9 398.3L587.5 255.6Z" stroke="#111" stroke-width="1.1" fill="none" stroke-linejoin="miter"/>
<path d="M653.4 369.8h2.2M538.1 398.3l-1.1 1.9M571.0 284.1l-1.1 -1.9M636.9 341.2h2.2M571.0 398.3l-1.1 1.9M554.5 312.7l-1.1 -1.9M620.5 312.7h2.2M604.0 398.3l-1.1 1.9M538.1 341.2l-1.1 -1.9M604.0 284.1h2.2M636.9 398.3l-1.1 1.9M521.6 369.8l-1.1 -1.9M587.5 255.6h2.2M669.9 398.3l-1.1 1.9M505.1 398.3l-1.1 -1.9" stroke="#333" stroke-width="0.6" fill="none"/>
<circle cx="587.5" cy="255.6" r="5.07" fill="#000" fill-opacity="1.00"/>
<circle cx="608.1" cy="291.3" r="4.60" fill="#000" fill-opacity="1.00"/>
<circle cx="587.5" cy="312.7" r="4.60" fill="#000" fill-opacity="1.00"/>
<circle cx="628.7" cy="326.9" r="4.13" fill="#000" fill-opacity="0.90"/>
<circle cx="571.0" cy="341.2" r="4.60" fill="#000" fill-opacity="0.80"/>
<circle cx="604.0" cy="341.2" r="4.60" fill="#000" fill-opacity="1.00"/>
<circle cx="587.5" cy="350.7" r="5.55" fill="#000" fill-opacity="1.00"/>
<circle cx="554.5" cy="369.8" r="2.71" fill="#000" fill-opacity="1.00"/>
<circle cx="587.5" cy="369.8" r="4.60" fill="#000" fill-opacity="0.70"/>
<circle cx="620.5" cy="369.8" r="4.84" fill="#000" fill-opacity="1.00"/>
<circle cx="649.3" cy="362.6" r="4.60" fill="#000" fill-opacity="0.60"/>
<circle cx="525.7" cy="362.6" r="2.71" fill="#000" fill-opacity="1.00"/>
<circle cx="546.3" cy="398.3" r="2.36" fill="#000" fill-opacity="1.00"/>
<circle cx="587.5" cy="398.3" r="2.71" fill="#000" fill-opacity="0.50"/>
<circle cx="628.7" cy="398.3" r="3.19" fill="#000" fill-opacity="0.50"/>
<circle cx="669.9" cy="398.3" r="5.55" fill="#000" fill-opacity="0.50"/>
<circle cx="669.9" cy="398.3" r="4.37" fill="#000" fill-opacity="1.00"/>
<circle cx="505.1" cy="398.3" r="1.42" fill="#000" fill-opacity="1.00"/>
<text x="658.5" y="372.8" font-size="8.4" fill="#333">20</text>
<text transform="translate(536.4 401.2) rotate(-60)" text-anchor="end" font-size="8.4" fill="#333" dy="3">20</text>
<text transform="translate(569.3 281.2) rotate(60)" text-anchor="end" font-size="8.4" fill="#333" dy="3">20</text>
<text x="642.0" y="344.2" font-size="8.4" fill="#333">40</text>
<text transform="translate(569.3 401.2) rotate(-60)" text-anchor="end" font-size="8.4" fill="#333" dy="3">40</text>
<text transform="translate(552.8 309.7) rotate(60)" text-anchor="end" font-size="8.4" fill="#333" dy="3">40</text>
<text x="625.6" y="315.7" font-size="8.4" fill="#333">60</text>
<text transform="translate(602.3 401.2) rotate(-60)" text-anchor="end" font-size="8.4" fill="#333" dy="3">60</text>
<text transform="translate(536.4 338.3) rotate(60)" text-anchor="end" font-size="8.4" fill="#333" dy="3">60</text>
<text x="609.1" y="287.1" font-size="8.4" fill="#333">80</text>
<text transform="translate(635.2 401.2) rotate(-60)" text-anchor="end" font-size="8.4" fill="#333" dy="3">80</text>
<text transform="translate(519.9 366.8) rotate(60)" text-anchor="end" font-size="8.4" fill="#333" dy="3">80</text>
<text x="592.6" y="258.6" font-size="8.4" fill="#333">100</text>
<text transform="translate(668.2 401.2) rotate(-60)" text-anchor="end" font-size="8.4" fill="#333" dy="3">100</text>
<text transform="translate(503.4 395.4) rotate(60)" text-anchor="end" font-size="8.4" fill="#333" dy="3">100</text>
<text x="587.7" y="247.8" font-size="11.5" text-anchor="middle" fill="#000">C</text>
<text x="493.6" y="407.8" font-size="11.5" text-anchor="middle" fill="#000">R</text>
<text x="681.4" y="407.8" font-size="11.5" text-anchor="middle" fill="#000">S</text>
<path d="M546.9 291.4L514.2 347.2M519.6 343.9L514.2 347.2L514.5 340.9" stroke="#111" stroke-width="0.9" fill="none" stroke-linejoin="miter"/>
<text transform="translate(529.0 318.4) rotate(-60)" text-anchor="middle" font-size="8.8" fill="#222">Ruderals</text>
<path d="M662.1 347.0L628.7 290.7M629.0 297.0L628.7 290.7L634.1 294.0" stroke="#111" stroke-width="0.9" fill="none" stroke-linejoin="miter"/>
<text transform="translate(646.9 318.0) rotate(60)" text-anchor="middle" font-size="8.8" fill="#222">Competitors</text>
<path d="M554.5 414.4L620.6 414.4M615.0 411.4L620.6 414.4L615.0 417.4" stroke="#111" stroke-width="0.9" fill="none" stroke-linejoin="miter"/>
<text x="587.0" y="422.6" text-anchor="middle" font-size="8.8" fill="#222">Stress tolerators</text>
<defs><linearGradient id="g6" x1="0" y1="0" x2="0" y2="1"><stop offset="0.000" stop-color="#dc3e0a"/><stop offset="0.050" stop-color="#e2530b"/><stop offset="0.100" stop-color="#e76209"/><stop offset="0.150" stop-color="#ec7107"/><stop offset="0.200" stop-color="#f07c08"/><stop offset="0.250" stop-color="#f4860c"/><stop offset="0.300" stop-color="#f88f10"/><stop offset="0.350" stop-color="#fa9913"/><stop offset="0.400" stop-color="#fda415"/><stop offset="0.450" stop-color="#fead1b"/><stop offset="0.500" stop-color="#f2ac37"/><stop offset="0.550" stop-color="#e6ac52"/><stop offset="0.600" stop-color="#daab6e"/><stop offset="0.650" stop-color="#caaa7f"/><stop offset="0.700" stop-color="#bba991"/><stop offset="0.750" stop-color="#aba7a2"/><stop offset="0.800" stop-color="#98a4b6"/><stop offset="0.850" stop-color="#83a0cb"/><stop offset="0.900" stop-color="#699cdd"/><stop offset="0.950" stop-color="#4998ec"/><stop offset="1.000" stop-color="#2a93fb"/></linearGradient></defs>
<rect x="477.3" y="244.1" width="15.3" height="75.5" fill="url(#g6)"/>
<rect x="477.3" y="244.1" width="15.3" height="75.5" fill="url(#side)"/>
<text x="496.8" y="254.2" font-size="8.8" fill="#000">12500</text>
<text x="496.8" y="276.6" font-size="8.8" fill="#000">10000</text>
<text x="496.8" y="299.2" font-size="8.8" fill="#000">7500</text>
<text x="496.8" y="321.9" font-size="8.8" fill="#000">5000</text>
<path d="M477.3 251.1h3M492.6 251.1h-3M477.3 273.5h3M492.6 273.5h-3M477.3 296.1h3M492.6 296.1h-3M477.3 318.8h3M492.6 318.8h-3" stroke="#fff" stroke-width="0.6" stroke-opacity="0.8" fill="none"/>
<text x="477.3" y="233.6" font-size="10.55" fill="#000" stroke="#000" stroke-width="0.15">APAR<tspan dx="0.3" dy="2.0" font-size="7.7">cum</tspan><tspan dy="-2.0"> </tspan>[kWh/m²]; R²<tspan dx="0.3" dy="2.0" font-size="7.7">adj</tspan><tspan dy="-2.0"> </tspan>0.57</text></g>
</svg>
</body></html>
